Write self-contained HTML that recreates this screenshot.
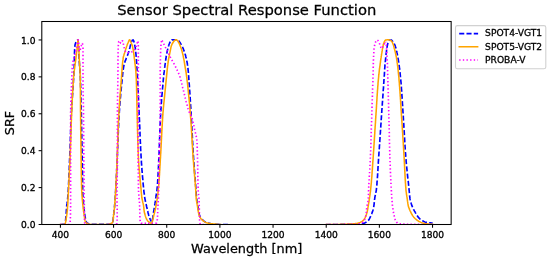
<!DOCTYPE html>
<html lang="en"><head><meta charset="utf-8"><title>Sensor Spectral Response Function</title>
<style>html,body{margin:0;padding:0;background:#fff}body{width:550px;height:259px;overflow:hidden}</style>
</head><body>
<svg width="550" height="259" viewBox="0 0 550 259" style="display:block">
<rect width="550" height="259" fill="#fff"/>
<defs><clipPath id="ax"><rect x="41.80" y="21.50" width="409.35" height="203.00"/></clipPath></defs>
<g clip-path="url(#ax)">
<path d="M60.4 224.5 L61.7 224.5 L62.7 224.4 L63.6 224.4 L64.2 224.3 L64.3 224.2 L64.9 223.4 L65.2 222.2 L65.3 221.9 L65.4 221.2 L65.6 220.2 L65.7 219.2 L65.8 218.1 L65.9 217.1 L66.0 216.0 L66.1 214.9 L66.1 213.9 L66.2 212.9 L66.3 211.9 L66.3 210.9 L66.4 209.9 L66.5 208.9 L66.5 207.8 L66.6 206.8 L66.7 206.0 L66.7 205.8 L66.8 204.9 L67.0 203.9 L67.1 202.9 L67.2 201.9 L67.4 200.9 L67.5 199.9 L67.6 198.9 L67.7 198.0 L67.7 197.9 L67.8 196.9 L67.9 195.9 L67.9 194.9 L68.0 193.9 L68.1 192.9 L68.1 191.9 L68.2 190.9 L68.3 189.9 L68.3 189.0 L68.4 188.0 L68.4 187.0 L68.5 186.0 L68.5 185.0 L68.6 184.0 L68.6 183.0 L68.7 182.0 L68.7 181.0 L68.8 180.0 L68.8 179.0 L68.9 178.0 L68.9 177.0 L68.9 176.0 L69.0 175.0 L69.0 174.0 L69.1 173.0 L69.1 172.0 L69.1 171.0 L69.2 170.0 L69.2 169.0 L69.3 168.0 L69.3 167.0 L69.3 166.0 L69.4 165.0 L69.4 164.0 L69.5 163.0 L69.5 162.0 L69.5 161.0 L69.6 160.0 L69.6 159.0 L69.7 158.0 L69.7 157.0 L69.7 157.0 L69.7 156.0 L69.8 155.0 L69.8 154.0 L69.9 153.0 L69.9 152.0 L69.9 151.0 L70.0 150.0 L70.0 149.0 L70.1 148.0 L70.1 147.0 L70.1 146.0 L70.2 145.0 L70.2 144.0 L70.2 143.0 L70.3 142.0 L70.3 141.0 L70.3 140.0 L70.4 139.0 L70.4 138.0 L70.4 137.0 L70.5 136.0 L70.5 135.0 L70.5 134.0 L70.6 133.0 L70.6 132.0 L70.6 131.0 L70.7 130.0 L70.7 129.0 L70.7 128.0 L70.8 127.0 L70.8 126.0 L70.9 125.0 L70.9 124.0 L70.9 123.0 L71.0 122.0 L71.0 121.0 L71.1 120.0 L71.1 119.0 L71.2 118.0 L71.2 117.0 L71.2 117.0 L71.2 116.1 L71.3 115.1 L71.3 114.1 L71.4 113.1 L71.4 112.1 L71.5 111.1 L71.6 110.1 L71.6 109.1 L71.7 108.1 L71.7 107.1 L71.8 106.1 L71.9 105.1 L71.9 104.1 L72.0 103.1 L72.0 102.1 L72.1 101.1 L72.2 100.1 L72.2 99.1 L72.3 98.1 L72.4 97.1 L72.4 96.1 L72.5 95.1 L72.6 94.1 L72.7 93.1 L72.7 92.1 L72.8 91.1 L72.9 90.1 L72.9 89.1 L73.0 88.1 L73.1 87.1 L73.1 86.1 L73.2 85.1 L73.2 84.1 L73.3 83.1 L73.4 82.1 L73.4 81.1 L73.5 80.1 L73.6 79.1 L73.6 78.2 L73.7 77.2 L73.7 76.2 L73.8 75.2 L73.8 74.2 L73.9 73.2 L73.9 72.2 L74.0 71.2 L74.0 70.2 L74.1 69.2 L74.1 68.7 L74.1 68.2 L74.2 67.2 L74.2 66.2 L74.2 65.2 L74.3 64.2 L74.3 63.2 L74.3 62.1 L74.3 61.1 L74.3 60.1 L74.4 59.1 L74.4 58.1 L74.4 57.1 L74.4 56.1 L74.5 55.1 L74.5 54.1 L74.5 53.1 L74.5 52.1 L74.6 51.1 L74.6 50.1 L74.7 49.1 L74.7 48.1 L74.8 47.2 L74.9 46.2 L74.9 45.8 L75.0 45.2 L75.2 44.2 L75.5 43.3 L75.9 42.3 L76.2 41.7 L76.4 41.4 L77.1 40.4 L77.6 39.9 L77.6 39.9 L77.8 40.1 L77.9 40.6 L78.1 41.4 L78.2 42.4 L78.3 43.6 L78.3 44.9 L78.4 46.2 L78.5 47.5 L78.5 48.7 L78.6 49.9 L78.6 50.0 L78.7 50.9 L78.7 51.8 L78.8 52.8 L78.8 53.8 L78.9 54.8 L79.0 55.8 L79.0 56.8 L79.1 57.8 L79.1 58.8 L79.2 59.8 L79.2 60.0 L79.3 60.8 L79.3 61.8 L79.4 62.8 L79.5 63.8 L79.5 64.8 L79.6 65.8 L79.7 66.8 L79.8 67.8 L79.8 68.8 L79.9 69.8 L80.0 70.8 L80.0 71.8 L80.1 72.8 L80.2 73.8 L80.2 74.8 L80.3 75.8 L80.3 76.5 L80.3 76.8 L80.4 77.8 L80.4 78.8 L80.4 79.8 L80.5 80.8 L80.5 81.8 L80.5 82.8 L80.6 83.8 L80.6 84.8 L80.6 85.8 L80.7 86.8 L80.7 87.8 L80.7 88.8 L80.8 89.8 L80.8 90.8 L80.8 91.8 L80.8 92.8 L80.9 93.8 L80.9 94.8 L80.9 95.8 L80.9 96.8 L81.0 97.8 L81.0 98.7 L81.0 99.7 L81.0 100.7 L81.1 101.7 L81.1 102.7 L81.1 103.7 L81.1 104.7 L81.1 105.7 L81.2 106.7 L81.2 107.7 L81.2 108.7 L81.2 109.7 L81.3 110.7 L81.3 111.7 L81.3 112.7 L81.3 113.7 L81.3 114.7 L81.4 115.7 L81.4 116.7 L81.4 117.0 L81.4 117.7 L81.4 118.7 L81.5 119.7 L81.5 120.7 L81.5 121.7 L81.5 122.7 L81.5 123.7 L81.6 124.7 L81.6 125.7 L81.6 126.7 L81.6 127.7 L81.7 128.7 L81.7 129.7 L81.7 130.7 L81.7 131.7 L81.7 132.7 L81.8 133.7 L81.8 134.7 L81.8 135.7 L81.8 136.7 L81.8 137.7 L81.8 138.7 L81.9 139.7 L81.9 140.7 L81.9 141.7 L81.9 142.7 L81.9 143.7 L82.0 144.7 L82.0 145.7 L82.0 146.7 L82.0 147.7 L82.0 148.7 L82.1 149.7 L82.1 150.7 L82.1 151.7 L82.1 152.7 L82.1 153.7 L82.2 154.7 L82.2 155.7 L82.2 156.7 L82.2 157.0 L82.2 157.7 L82.2 158.7 L82.3 159.7 L82.3 160.7 L82.3 161.7 L82.3 162.7 L82.3 163.7 L82.3 164.7 L82.3 165.7 L82.4 166.7 L82.4 167.7 L82.4 168.7 L82.4 169.7 L82.4 170.7 L82.4 171.7 L82.4 172.7 L82.5 173.7 L82.5 174.7 L82.5 175.7 L82.5 176.7 L82.5 177.7 L82.5 178.7 L82.5 179.7 L82.6 180.7 L82.6 181.7 L82.6 182.7 L82.6 183.7 L82.6 184.7 L82.6 185.7 L82.7 186.7 L82.7 187.7 L82.7 188.7 L82.7 189.7 L82.8 190.7 L82.8 191.7 L82.8 192.7 L82.9 193.7 L82.9 194.7 L82.9 195.7 L83.0 196.7 L83.0 197.7 L83.0 198.0 L83.0 198.7 L83.1 199.7 L83.2 200.6 L83.3 201.6 L83.4 202.6 L83.5 203.6 L83.6 204.6 L83.7 205.6 L83.8 206.4 L83.8 206.6 L83.9 207.6 L84.0 208.6 L84.1 209.6 L84.3 210.6 L84.4 211.6 L84.5 212.6 L84.6 213.6 L84.8 214.6 L84.9 215.6 L85.0 216.1 L85.1 216.6 L85.3 217.7 L85.4 218.9 L85.7 220.0 L85.9 221.0 L86.3 221.8 L86.3 221.9 L86.8 222.6 L87.7 223.3 L88.5 223.8 L88.6 223.8 L89.5 224.0 L90.5 224.3 L91.5 224.4 L92.0 224.4 L92.5 224.4 L93.5 224.4 L94.5 224.4 L95.5 224.4 L96.5 224.4 L97.5 224.4 L98.5 224.4 L99.5 224.4 L100.5 224.4 L101.5 224.4 L102.5 224.4 L103.5 224.4 L104.5 224.4 L105.5 224.4 L106.5 224.4 L107.5 224.4 L108.0 224.4 L108.5 224.4 L109.5 224.2 L110.0 224.1 L110.5 223.9 L111.5 223.4 L112.3 222.8 L112.5 222.5 L112.7 222.0 L112.9 221.1 L113.1 220.1 L113.2 219.0 L113.3 217.8 L113.4 216.7 L113.5 215.5 L113.6 215.0 L113.7 214.5 L113.8 213.5 L113.9 212.5 L114.0 211.5 L114.1 210.5 L114.3 209.5 L114.4 208.6 L114.5 207.6 L114.5 206.6 L114.6 206.0 L114.6 205.6 L114.7 204.6 L114.8 203.6 L114.9 202.6 L115.0 201.6 L115.0 200.6 L115.1 199.6 L115.2 198.6 L115.2 198.0 L115.2 197.6 L115.3 196.6 L115.4 195.6 L115.4 194.6 L115.5 193.6 L115.5 192.6 L115.6 191.6 L115.7 190.6 L115.7 190.0 L115.7 189.6 L115.8 188.6 L115.8 187.6 L115.9 186.6 L115.9 185.6 L116.0 184.6 L116.0 183.6 L116.1 182.6 L116.1 181.6 L116.2 180.6 L116.2 179.6 L116.3 178.6 L116.3 177.6 L116.4 176.6 L116.4 175.6 L116.5 174.6 L116.5 173.6 L116.6 172.7 L116.6 171.7 L116.7 170.7 L116.7 169.7 L116.8 168.7 L116.8 167.7 L116.9 166.7 L116.9 165.7 L117.0 164.7 L117.0 163.7 L117.0 162.7 L117.1 161.7 L117.1 160.7 L117.2 159.7 L117.2 158.7 L117.3 157.7 L117.3 157.0 L117.3 156.7 L117.4 155.7 L117.4 154.7 L117.4 153.7 L117.5 152.7 L117.5 151.7 L117.6 150.7 L117.6 149.7 L117.6 148.7 L117.7 147.7 L117.7 146.7 L117.8 145.7 L117.8 144.7 L117.8 143.7 L117.9 142.7 L117.9 141.7 L118.0 140.7 L118.0 139.7 L118.0 138.7 L118.1 137.7 L118.1 136.7 L118.1 135.7 L118.2 134.7 L118.2 133.7 L118.3 132.7 L118.3 131.7 L118.3 130.7 L118.4 129.7 L118.4 128.7 L118.5 127.7 L118.5 126.7 L118.6 125.7 L118.6 124.7 L118.7 123.7 L118.7 122.7 L118.7 121.7 L118.8 120.7 L118.9 119.7 L118.9 118.7 L119.0 117.7 L119.0 117.0 L119.0 116.7 L119.1 115.7 L119.1 114.8 L119.2 113.8 L119.3 112.8 L119.3 111.8 L119.4 110.8 L119.5 109.8 L119.5 108.8 L119.6 107.8 L119.7 106.8 L119.7 105.8 L119.8 104.8 L119.9 103.8 L120.0 102.8 L120.1 101.8 L120.1 100.8 L120.2 99.8 L120.3 98.8 L120.4 97.8 L120.5 96.8 L120.6 95.8 L120.6 94.8 L120.7 93.8 L120.8 92.8 L120.9 91.8 L121.0 90.8 L121.1 89.8 L121.2 88.8 L121.3 87.9 L121.4 86.9 L121.5 85.9 L121.6 84.9 L121.7 83.9 L121.8 82.9 L121.9 81.9 L122.0 80.9 L122.1 79.9 L122.2 78.9 L122.3 78.0 L122.3 77.9 L122.4 76.9 L122.5 75.9 L122.6 74.9 L122.7 73.9 L122.8 72.9 L122.9 71.9 L123.1 70.9 L123.2 69.9 L123.3 68.9 L123.5 68.0 L123.6 67.0 L123.8 66.0 L123.9 65.5 L124.0 65.0 L124.2 64.1 L124.5 63.1 L124.8 62.2 L125.1 61.2 L125.5 60.3 L125.9 59.4 L126.2 58.4 L126.6 57.5 L127.0 56.6 L127.4 55.6 L127.7 54.7 L128.0 54.0 L128.1 53.8 L128.4 52.7 L128.8 51.6 L129.1 50.4 L129.4 49.2 L129.8 47.9 L130.1 46.7 L130.4 45.4 L130.8 44.3 L131.1 43.2 L131.4 42.2 L131.8 41.4 L132.1 40.7 L132.4 40.2 L132.7 39.9 L132.9 39.8" fill="none" stroke="#0000ff" stroke-width="1.65" stroke-linejoin="round" stroke-linecap="butt" stroke-dasharray="5.08 2.20" stroke-dashoffset="0.00"/>
<path d="M132.9 39.8 L133.0 39.8 L133.3 40.1 L133.6 40.7 L133.9 41.5 L134.2 42.6 L134.5 43.8 L134.7 45.1 L135.0 46.3 L135.2 47.6 L135.4 48.7 L135.4 49.0 L135.5 49.7 L135.6 50.7 L135.7 51.6 L135.8 52.6 L135.9 53.6 L136.0 54.6 L136.1 55.6 L136.2 56.6 L136.3 57.6 L136.3 58.6 L136.4 59.6 L136.5 60.6 L136.5 61.6 L136.6 62.6 L136.7 63.6 L136.7 64.6 L136.8 65.6 L136.8 66.6 L136.9 67.6 L137.0 68.6 L137.0 69.6 L137.1 70.6 L137.1 71.6 L137.2 72.6 L137.2 73.6 L137.3 74.6 L137.3 75.6 L137.4 76.6 L137.4 77.0 L137.4 77.6 L137.5 78.6 L137.5 79.6 L137.6 80.6 L137.7 81.6 L137.7 82.6 L137.8 83.6 L137.8 84.6 L137.9 85.6 L137.9 86.6 L138.0 87.6 L138.0 88.6 L138.1 89.6 L138.1 90.6 L138.2 91.6 L138.2 92.6 L138.2 93.6 L138.3 94.6 L138.3 95.6 L138.4 96.6 L138.4 97.6 L138.5 98.5 L138.5 99.5 L138.6 100.5 L138.6 101.5 L138.7 102.5 L138.7 103.5 L138.7 104.5 L138.8 105.5 L138.8 106.5 L138.9 107.5 L138.9 108.5 L139.0 109.5 L139.0 110.5 L139.1 111.5 L139.1 112.5 L139.1 113.5 L139.2 114.5 L139.2 115.5 L139.3 116.5 L139.3 117.0 L139.3 117.5 L139.4 118.5 L139.4 119.5 L139.5 120.5 L139.5 121.5 L139.5 122.5 L139.6 123.5 L139.6 124.5 L139.7 125.5 L139.7 126.5 L139.8 127.5 L139.8 128.5 L139.8 129.5 L139.9 130.5 L139.9 131.5 L140.0 132.5 L140.0 133.5 L140.0 134.5 L140.1 135.5 L140.1 136.5 L140.2 137.5 L140.2 138.5 L140.2 139.5 L140.3 140.5 L140.3 141.5 L140.4 142.5 L140.4 143.5 L140.5 144.5 L140.5 145.5 L140.6 146.5 L140.6 147.5 L140.6 148.5 L140.7 149.5 L140.7 150.5 L140.8 151.5 L140.8 152.5 L140.9 153.5 L141.0 154.5 L141.0 155.5 L141.1 156.5 L141.1 157.0 L141.1 157.4 L141.2 158.4 L141.2 159.4 L141.3 160.4 L141.4 161.4 L141.4 162.4 L141.5 163.4 L141.6 164.4 L141.6 165.4 L141.7 166.4 L141.8 167.4 L141.9 168.4 L141.9 169.4 L142.0 170.4 L142.1 171.4 L142.2 172.4 L142.3 173.4 L142.3 174.4 L142.4 175.4 L142.5 176.4 L142.6 177.4 L142.7 178.4 L142.8 179.4 L142.9 180.4 L143.0 181.4 L143.0 182.4 L143.1 183.4 L143.2 184.3 L143.3 185.3 L143.4 186.3 L143.5 187.3 L143.6 188.3 L143.7 189.3 L143.8 190.0 L143.8 190.3 L143.9 191.3 L144.0 192.3 L144.2 193.3 L144.3 194.3 L144.4 195.3 L144.5 196.3 L144.7 197.3 L144.8 198.0 L144.8 198.2 L145.0 199.2 L145.2 200.2 L145.4 201.2 L145.6 202.2 L145.8 203.1 L146.1 204.1 L146.3 205.1 L146.5 206.1 L146.6 206.4 L146.7 207.0 L147.0 208.0 L147.2 209.0 L147.4 210.0 L147.6 211.0 L147.9 211.9 L148.1 212.9 L148.4 213.9 L148.6 214.8 L148.9 215.8 L149.1 216.3 L149.3 216.8 L149.7 218.1 L150.2 219.3 L150.7 220.4 L151.2 221.2 L151.5 221.5" fill="none" stroke="#0000ff" stroke-width="1.65" stroke-linejoin="round" stroke-linecap="butt" stroke-dasharray="5.08 2.20" stroke-dashoffset="2.07"/>
<path d="M151.5 221.5 L151.5 221.5 L151.8 221.3 L152.1 220.8 L152.3 220.1 L152.5 219.1 L152.8 218.0 L153.0 216.7 L153.2 215.3 L153.3 214.0 L153.5 212.7 L153.7 211.5 L153.9 210.3 L154.0 209.6 L154.1 209.3 L154.2 208.3 L154.4 207.3 L154.5 206.4 L154.7 205.4 L154.8 204.4 L155.0 203.4 L155.1 202.4 L155.3 201.4 L155.4 200.4 L155.6 199.4 L155.7 198.4 L155.9 197.5 L156.0 196.5 L156.0 196.5 L156.2 195.5 L156.3 194.5 L156.5 193.5 L156.7 192.5 L156.8 191.5 L156.9 190.5 L157.0 190.0 L157.0 189.6 L157.1 188.6 L157.2 187.6 L157.3 186.6 L157.4 185.6 L157.5 184.6 L157.5 183.6 L157.6 182.6 L157.7 181.6 L157.7 180.6 L157.8 179.6 L157.9 178.6 L157.9 177.6 L158.0 176.6 L158.0 175.6 L158.1 174.6 L158.1 173.6 L158.2 172.6 L158.2 171.6 L158.3 170.6 L158.3 169.6 L158.4 168.6 L158.4 167.6 L158.5 166.6 L158.5 165.6 L158.6 164.6 L158.6 163.6 L158.6 162.6 L158.7 161.6 L158.7 160.6 L158.8 159.6 L158.8 158.6 L158.9 157.6 L158.9 157.0 L158.9 156.6 L159.0 155.6 L159.0 154.6 L159.1 153.6 L159.1 152.6 L159.1 151.6 L159.2 150.6 L159.2 149.6 L159.3 148.6 L159.3 147.6 L159.3 146.6 L159.4 145.6 L159.4 144.7 L159.4 143.7 L159.5 142.7 L159.5 141.7 L159.5 140.7 L159.6 139.7 L159.6 138.7 L159.7 137.7 L159.7 136.7 L159.7 135.7 L159.8 134.7 L159.8 133.7 L159.8 132.7 L159.9 131.7 L159.9 130.7 L159.9 129.7 L160.0 128.7 L160.0 127.7 L160.1 126.7 L160.1 125.7 L160.1 124.7 L160.2 123.7 L160.2 122.7 L160.3 121.7 L160.3 120.7 L160.4 119.7 L160.4 118.7 L160.5 117.7 L160.5 117.0 L160.5 116.7 L160.6 115.7 L160.6 114.7 L160.7 113.7 L160.7 112.7 L160.8 111.7 L160.9 110.7 L160.9 109.7 L161.0 108.7 L161.0 107.7 L161.1 106.7 L161.2 105.7 L161.3 104.7 L161.3 103.7 L161.4 102.7 L161.5 101.7 L161.5 100.7 L161.6 99.7 L161.7 98.7 L161.8 97.7 L161.8 96.8 L161.9 95.8 L162.0 94.8 L162.1 93.8 L162.2 92.8 L162.2 91.8 L162.3 90.8 L162.4 89.8 L162.5 88.8 L162.6 87.8 L162.7 86.8 L162.8 85.8 L162.9 84.8 L163.0 83.8 L163.0 82.8 L163.1 81.8 L163.2 80.8 L163.3 79.8 L163.4 78.8 L163.5 77.8 L163.6 77.0 L163.6 76.8 L163.7 75.9 L163.8 74.9 L163.9 73.9 L164.0 72.9 L164.2 71.9 L164.3 70.9 L164.4 69.9 L164.5 68.9 L164.6 67.9 L164.8 66.9 L164.9 65.9 L165.0 64.9 L165.2 63.9 L165.2 63.8 L165.3 63.0 L165.5 62.0 L165.6 61.0 L165.7 60.0 L165.9 59.0 L166.0 58.0 L166.2 57.0 L166.3 56.0 L166.5 55.0 L166.7 54.1 L166.9 53.1 L167.0 52.4 L167.1 52.1 L167.3 51.1 L167.5 50.1 L167.7 49.1 L167.9 48.1 L168.2 47.2 L168.5 46.2 L168.8 45.3 L169.1 44.3 L169.4 43.6 L169.5 43.4 L169.9 42.4 L170.4 41.4 L171.1 40.5 L171.7 40.0 L172.0 39.9 L172.5 39.9 L173.5 39.8 L174.6 39.8 L175.7 39.8 L176.7 39.8 L176.9 39.8 L177.5 39.9 L178.2 40.3 L178.9 41.0 L179.6 41.9 L180.2 42.8 L180.8 43.9 L181.3 44.9 L181.8 45.8 L181.8 45.8 L182.3 46.6 L182.7 47.5 L183.1 48.4 L183.5 49.4 L183.9 50.3 L184.2 51.3 L184.6 52.2 L184.9 53.2 L185.1 54.0 L185.1 54.1 L185.4 55.1 L185.7 56.1 L185.9 57.0 L186.2 58.0 L186.4 59.0 L186.6 59.9 L186.8 60.9 L187.0 61.9 L187.2 62.9 L187.4 63.9 L187.5 64.9 L187.6 65.5 L187.6 65.9 L187.8 66.8 L187.9 67.8 L188.0 68.8 L188.1 69.8 L188.2 70.8 L188.3 71.8 L188.4 72.8 L188.4 73.8 L188.5 74.8 L188.6 75.8 L188.7 76.8 L188.7 77.0 L188.8 77.8 L188.8 78.8 L188.9 79.8 L189.0 80.8 L189.1 81.8 L189.1 82.8 L189.2 83.8 L189.3 84.8 L189.4 85.8 L189.4 86.8 L189.5 87.8 L189.6 88.8 L189.6 89.8 L189.7 90.8 L189.8 91.8 L189.8 92.8 L189.9 93.7 L190.0 94.7 L190.0 95.7 L190.1 96.7 L190.2 97.7 L190.2 98.7 L190.3 99.7 L190.3 100.7 L190.4 101.7 L190.5 102.7 L190.5 103.7 L190.6 104.7 L190.6 105.7 L190.7 106.7 L190.8 107.7 L190.8 108.7 L190.9 109.7 L190.9 110.7 L191.0 111.7 L191.1 112.7 L191.1 113.7 L191.2 114.7 L191.2 115.7 L191.3 116.7 L191.3 117.0 L191.3 117.7 L191.4 118.7 L191.4 119.7 L191.5 120.7 L191.6 121.7 L191.6 122.7 L191.7 123.7 L191.7 124.7 L191.8 125.7 L191.8 126.7 L191.9 127.7 L191.9 128.7 L192.0 129.7 L192.0 130.7 L192.1 131.7 L192.1 132.7 L192.2 133.7 L192.2 134.7 L192.3 135.7 L192.3 136.7 L192.4 137.6 L192.4 138.6 L192.5 139.6 L192.5 140.0 L192.5 140.6 L192.6 141.6 L192.6 142.6 L192.7 143.6 L192.8 144.6 L192.8 145.6 L192.9 146.6 L192.9 147.6 L193.0 148.6 L193.0 149.6 L193.1 150.6 L193.2 151.6 L193.2 152.6 L193.3 153.6 L193.3 154.6 L193.4 155.6 L193.5 156.6 L193.5 157.0 L193.5 157.6 L193.6 158.6 L193.7 159.6 L193.7 160.6 L193.8 161.6 L193.9 162.6 L194.0 163.6 L194.0 164.6 L194.1 165.6 L194.2 166.6 L194.3 167.6 L194.3 168.6 L194.4 169.6 L194.5 170.6 L194.6 171.6 L194.6 172.5 L194.7 173.5 L194.8 174.5 L194.9 175.5 L194.9 176.5 L195.0 177.5 L195.1 178.5 L195.2 179.5 L195.3 180.5 L195.3 181.5 L195.4 182.5 L195.5 183.5 L195.6 184.5 L195.7 185.5 L195.7 186.5 L195.8 187.5 L195.9 188.5 L196.0 189.5 L196.0 190.0 L196.0 190.5 L196.1 191.5 L196.2 192.5 L196.2 193.5 L196.3 194.5 L196.4 195.5 L196.5 196.5 L196.5 197.5 L196.6 198.0 L196.6 198.5 L196.8 199.4 L196.9 200.4 L197.0 201.4 L197.2 202.4 L197.4 203.4 L197.5 204.4 L197.7 205.4 L197.9 206.3 L197.9 206.4 L198.1 207.3 L198.2 208.4 L198.4 209.4 L198.5 210.4 L198.7 211.4 L198.9 212.4 L199.1 213.4 L199.3 214.4 L199.6 215.3 L199.9 216.2 L199.9 216.3 L200.3 217.1 L200.9 218.0 L201.5 218.9 L202.3 219.6 L203.1 220.4 L203.4 220.7 L203.8 221.0 L204.7 221.6 L205.5 222.2 L206.5 222.6 L207.0 222.8 L207.4 222.9 L208.3 223.1 L209.3 223.3 L210.3 223.5 L211.3 223.7 L212.3 223.8 L213.0 223.9 L213.3 223.9 L214.3 224.0 L215.3 224.1 L216.3 224.2 L217.3 224.3 L218.3 224.4 L219.3 224.5 L220.3 224.5 L220.5 224.5" fill="none" stroke="#0000ff" stroke-width="1.65" stroke-linejoin="round" stroke-linecap="butt" stroke-dasharray="5.08 2.20" stroke-dashoffset="5.53"/>
<path d="M220.5 224.5 L221.3 224.5 L222.3 224.5 L223.3 224.5 L224.3 224.5 L225.3 224.5 L226.3 224.5 L227.3 224.5 L228.3 224.5" fill="none" stroke="#0000ff" stroke-width="1.65" stroke-linejoin="round" stroke-linecap="butt" stroke-dasharray="5.08 2.20" stroke-dashoffset="4.88"/>
<path d="M326.3 224.5 L327.3 224.5 L328.3 224.5 L329.3 224.5 L330.3 224.5 L331.4 224.5 L332.4 224.5 L333.4 224.5 L334.4 224.5 L335.4 224.5 L336.4 224.5 L337.4 224.5 L338.4 224.5 L339.4 224.5 L340.4 224.5 L341.4 224.4 L342.4 224.4 L343.4 224.4 L344.4 224.4 L345.4 224.4 L346.4 224.4 L347.4 224.4 L348.4 224.4 L349.4 224.4 L350.3 224.3 L351.3 224.3 L352.3 224.3 L353.3 224.3 L354.3 224.3 L355.3 224.3 L356.3 224.2 L357.3 224.2 L358.3 224.2 L359.0 224.2 L359.3 224.2 L360.3 224.1 L361.3 223.9 L362.3 223.7 L363.2 223.4 L364.0 223.2 L364.2 223.2 L365.1 222.8 L366.0 222.3 L366.9 221.7 L367.7 221.0 L368.1 220.7 L368.4 220.4 L369.0 219.6 L369.5 218.7 L370.0 217.7 L370.5 216.7 L370.9 215.7 L371.3 214.7 L371.4 214.5 L371.7 213.8 L372.0 212.9 L372.4 211.9 L372.7 211.0 L373.0 210.0 L373.2 209.0 L373.5 208.1 L373.7 207.1 L373.8 206.4 L373.8 206.1 L374.0 205.1 L374.1 204.1 L374.2 203.2 L374.3 202.2 L374.4 201.2 L374.5 200.2 L374.6 199.2 L374.8 198.2 L374.8 198.0 L374.9 197.2 L375.1 196.2 L375.3 195.2 L375.5 194.2 L375.7 193.3 L375.9 192.3 L376.1 191.3 L376.3 190.3 L376.3 190.0 L376.4 189.3 L376.5 188.3 L376.6 187.4 L376.7 186.4 L376.8 185.4 L376.9 184.4 L377.0 183.4 L377.0 182.4 L377.1 181.4 L377.2 180.4 L377.3 179.4 L377.4 178.4 L377.4 177.4 L377.5 176.4 L377.6 175.4 L377.6 174.4 L377.7 173.4 L377.8 172.4 L377.8 171.4 L377.9 170.4 L377.9 169.4 L378.0 168.4 L378.0 167.4 L378.1 166.4 L378.2 165.4 L378.2 164.4 L378.3 163.4 L378.3 162.4 L378.4 161.4 L378.5 160.4 L378.5 159.4 L378.6 158.4 L378.7 157.4 L378.7 157.0 L378.7 156.4 L378.8 155.4 L378.9 154.4 L378.9 153.5 L379.0 152.5 L379.1 151.5 L379.2 150.5 L379.2 149.5 L379.3 148.5 L379.4 147.5 L379.4 146.5 L379.5 145.5 L379.6 144.5 L379.6 143.5 L379.7 142.5 L379.8 141.5 L379.8 140.5 L379.9 139.5 L380.0 138.5 L380.0 137.5 L380.1 136.5 L380.2 135.5 L380.2 134.5 L380.3 133.5 L380.4 132.5 L380.4 131.5 L380.5 130.5 L380.6 129.5 L380.6 128.5 L380.7 127.5 L380.8 126.5 L380.8 125.5 L380.9 124.5 L381.0 123.5 L381.0 122.6 L381.1 121.6 L381.2 120.6 L381.2 119.6 L381.3 118.6 L381.4 117.6 L381.4 117.0 L381.4 116.6 L381.5 115.6 L381.6 114.6 L381.6 113.6 L381.7 112.6 L381.8 111.6 L381.8 110.6 L381.9 109.6 L382.0 108.6 L382.1 107.6 L382.1 106.6 L382.2 105.6 L382.3 104.6 L382.3 103.6 L382.4 102.6 L382.5 101.6 L382.5 100.6 L382.6 99.6 L382.7 98.6 L382.8 97.6 L382.8 96.6 L382.9 95.6 L383.0 94.6 L383.0 93.6 L383.1 92.7 L383.2 91.7 L383.2 90.7 L383.3 89.7 L383.4 88.7 L383.5 87.7 L383.5 86.7 L383.6 85.7 L383.7 84.7 L383.7 83.7 L383.8 82.7 L383.9 81.7 L383.9 80.7 L384.0 79.7 L384.1 78.7 L384.2 77.7 L384.2 77.0 L384.2 76.7 L384.3 75.7 L384.4 74.7 L384.4 73.7 L384.5 72.7 L384.5 71.7 L384.6 70.7 L384.7 69.7 L384.7 68.7 L384.8 67.7 L384.9 66.7 L384.9 65.7 L385.0 64.7 L385.1 63.8 L385.1 63.7 L385.2 62.8 L385.3 61.8 L385.4 60.8 L385.5 59.8 L385.6 58.8 L385.7 57.8 L385.8 56.8 L385.9 55.8 L386.0 54.8 L386.1 53.8 L386.2 52.8 L386.3 52.4 L386.4 51.8 L386.5 50.8 L386.6 49.8 L386.8 48.8 L386.9 47.8 L387.1 46.8 L387.3 45.8 L387.5 44.8 L387.7 43.9 L387.9 43.4 L388.0 43.0 L388.5 41.9 L389.1 40.9 L389.7 40.0 L390.4 39.7 L390.4 39.7" fill="none" stroke="#0000ff" stroke-width="1.65" stroke-linejoin="round" stroke-linecap="butt" stroke-dasharray="5.08 2.20" stroke-dashoffset="0.80"/>
<path d="M390.4 39.7 L391.0 39.9 L391.8 40.4 L392.5 41.2 L393.3 42.2 L393.9 43.2 L394.4 44.1 L394.5 44.2 L394.8 44.9 L395.2 45.8 L395.5 46.8 L395.8 47.7 L396.1 48.7 L396.3 49.7 L396.5 50.7 L396.8 51.7 L396.9 52.4 L397.0 52.7 L397.2 53.7 L397.4 54.7 L397.6 55.6 L397.7 56.6 L397.9 57.6 L398.1 58.6 L398.3 59.6 L398.4 60.6 L398.6 61.6 L398.7 62.5 L398.9 63.5 L398.9 63.8 L399.0 64.5 L399.1 65.5 L399.3 66.5 L399.4 67.5 L399.5 68.5 L399.7 69.5 L399.8 70.5 L399.9 71.5 L400.0 72.4 L400.1 73.4 L400.2 74.4 L400.3 75.4 L400.4 76.4 L400.5 77.0 L400.5 77.4 L400.6 78.4 L400.7 79.4 L400.8 80.4 L400.9 81.4 L401.0 82.4 L401.1 83.4 L401.1 84.4 L401.2 85.4 L401.3 86.4 L401.4 87.4 L401.4 88.4 L401.5 89.4 L401.6 90.4 L401.7 91.4 L401.7 92.3 L401.8 93.3 L401.9 94.3 L401.9 95.3 L402.0 96.3 L402.1 97.3 L402.1 98.3 L402.2 99.3 L402.2 100.3 L402.3 101.3 L402.4 102.3 L402.4 103.3 L402.5 104.3 L402.6 105.3 L402.6 106.3 L402.7 107.3 L402.7 108.3 L402.8 109.3 L402.9 110.3 L402.9 111.3 L403.0 112.3 L403.1 113.3 L403.1 114.3 L403.2 115.3 L403.3 116.3 L403.3 117.0 L403.3 117.3 L403.4 118.3 L403.4 119.3 L403.5 120.3 L403.6 121.3 L403.6 122.3 L403.7 123.3 L403.8 124.3 L403.8 125.3 L403.9 126.3 L403.9 127.3 L404.0 128.3 L404.0 129.3 L404.1 130.2 L404.2 131.2 L404.2 132.2 L404.3 133.2 L404.3 134.2 L404.4 135.2 L404.4 136.2 L404.5 137.2 L404.6 138.2 L404.6 139.2 L404.7 140.2 L404.7 141.2 L404.8 142.2 L404.9 143.2 L404.9 144.2 L405.0 145.2 L405.0 146.2 L405.1 147.2 L405.2 148.2 L405.2 149.2 L405.3 150.2 L405.4 151.2 L405.4 152.2 L405.5 153.2 L405.6 154.2 L405.7 155.2 L405.7 156.2 L405.8 157.0 L405.8 157.2 L405.9 158.2 L406.0 159.2 L406.1 160.2 L406.1 161.1 L406.2 162.1 L406.3 163.1 L406.4 164.1 L406.5 165.1 L406.6 166.1 L406.7 167.1 L406.8 168.1 L406.9 169.1 L407.0 170.1 L407.1 171.1 L407.2 172.1 L407.3 173.1 L407.4 174.1 L407.5 175.1 L407.6 176.1 L407.7 177.1 L407.8 178.0 L407.9 179.0 L408.1 180.0 L408.2 181.0 L408.3 182.0 L408.4 183.0 L408.5 184.0 L408.6 185.0 L408.7 186.0 L408.8 187.0 L408.9 188.0 L409.0 189.0 L409.1 190.0 L409.1 190.0 L409.2 191.0 L409.3 192.0 L409.4 193.0 L409.5 194.0 L409.5 195.0 L409.6 196.0 L409.8 196.9 L409.9 197.9 L409.9 198.0 L410.0 198.9 L410.2 199.9 L410.5 200.9 L410.7 201.8 L411.0 202.8 L411.3 203.8 L411.6 204.7 L411.9 205.7 L412.0 205.9 L412.3 206.6 L412.6 207.5 L413.1 208.4 L413.5 209.3 L414.0 210.2 L414.5 211.1 L415.0 211.9 L415.5 212.8 L415.8 213.3 L416.0 213.7 L416.5 214.6 L417.0 215.4 L417.6 216.3 L418.0 216.9 L418.2 217.1 L418.9 217.9 L419.6 218.6 L420.4 219.3 L420.7 219.5 L421.2 219.9 L422.1 220.5 L423.0 221.0 L423.9 221.5 L424.8 221.9 L425.6 222.2 L425.7 222.2 L426.7 222.4 L427.7 222.5 L428.6 222.7 L429.6 222.8 L430.6 222.9 L431.7 223.0 L432.7 223.0" fill="none" stroke="#0000ff" stroke-width="1.65" stroke-linejoin="round" stroke-linecap="butt" stroke-dasharray="5.08 2.20" stroke-dashoffset="1.61"/>
<path d="M60.4 224.5 L61.5 224.5 L62.6 224.5 L63.5 224.4 L64.2 224.4 L64.4 224.4 L65.2 223.6 L65.3 223.3 L65.5 222.7 L65.7 221.6 L65.9 220.5 L66.0 219.8 L66.1 219.5 L66.2 218.4 L66.4 217.3 L66.6 216.3 L66.7 215.2 L66.9 214.2 L67.0 213.2 L67.0 213.0 L67.1 212.2 L67.2 211.3 L67.3 210.3 L67.4 209.3 L67.5 208.3 L67.5 207.3 L67.6 206.3 L67.7 205.3 L67.8 204.3 L67.8 203.3 L67.9 202.3 L67.9 202.0 L67.9 201.3 L68.0 200.3 L68.0 199.3 L68.1 198.3 L68.1 197.3 L68.2 196.3 L68.2 195.3 L68.3 194.3 L68.3 194.0 L68.3 193.3 L68.4 192.3 L68.4 191.3 L68.5 190.3 L68.5 189.3 L68.6 188.3 L68.6 187.3 L68.7 186.3 L68.7 185.3 L68.8 184.3 L68.8 183.3 L68.9 182.3 L68.9 181.3 L69.0 180.3 L69.0 179.3 L69.1 178.3 L69.1 177.3 L69.2 176.3 L69.2 175.3 L69.3 174.3 L69.3 173.3 L69.4 172.3 L69.4 171.3 L69.5 170.3 L69.5 169.3 L69.6 168.3 L69.6 167.3 L69.7 166.3 L69.7 165.3 L69.8 164.3 L69.8 163.3 L69.9 162.3 L69.9 161.3 L70.0 160.3 L70.0 159.3 L70.0 158.3 L70.1 157.3 L70.1 157.0 L70.1 156.3 L70.2 155.3 L70.2 154.3 L70.2 153.4 L70.3 152.4 L70.3 151.4 L70.4 150.4 L70.4 149.4 L70.4 148.4 L70.5 147.4 L70.5 146.4 L70.5 145.4 L70.6 144.4 L70.6 143.4 L70.6 142.4 L70.7 141.4 L70.7 140.4 L70.7 139.4 L70.7 138.4 L70.8 137.4 L70.8 136.4 L70.8 135.4 L70.9 134.4 L70.9 133.4 L70.9 132.4 L71.0 131.4 L71.0 130.4 L71.0 129.4 L71.1 128.4 L71.1 127.4 L71.1 126.4 L71.2 125.4 L71.2 124.4 L71.2 123.4 L71.3 122.4 L71.3 121.4 L71.4 120.4 L71.4 119.4 L71.4 118.4 L71.5 117.4 L71.5 117.0 L71.5 116.4 L71.6 115.4 L71.6 114.4 L71.7 113.4 L71.7 112.4 L71.7 111.4 L71.8 110.4 L71.8 109.4 L71.9 108.4 L71.9 107.4 L72.0 106.4 L72.0 105.4 L72.0 104.4 L72.1 103.4 L72.1 102.4 L72.2 101.4 L72.2 100.4 L72.3 99.4 L72.3 98.4 L72.4 97.4 L72.4 96.4 L72.5 95.4 L72.5 94.4 L72.6 93.4 L72.6 92.4 L72.7 91.4 L72.8 90.4 L72.8 89.4 L72.9 88.4 L72.9 87.4 L73.0 86.4 L73.1 85.4 L73.1 84.4 L73.2 83.4 L73.3 82.4 L73.3 81.4 L73.4 80.4 L73.5 79.4 L73.5 78.4 L73.6 77.4 L73.7 76.5 L73.7 76.5 L73.8 75.5 L73.9 74.5 L74.0 73.5 L74.1 72.5 L74.2 71.5 L74.3 70.5 L74.4 69.5 L74.6 68.5 L74.7 67.5 L74.8 66.5 L75.0 65.5 L75.1 64.5 L75.2 63.5 L75.4 62.6 L75.5 61.6 L75.6 60.6 L75.7 60.0 L75.8 59.6 L75.9 58.6 L76.0 57.6 L76.1 56.6 L76.3 55.6 L76.4 54.6 L76.5 53.6 L76.6 52.6 L76.7 51.6 L76.9 50.7 L77.0 49.7 L77.0 49.5 L77.1 48.7 L77.2 47.7 L77.3 46.7 L77.4 45.7 L77.5 44.7 L77.6 44.0 L77.6 43.7 L77.7 42.4 L77.8 41.1 L77.8 40.1 L77.9 39.7 L77.9 39.7 L78.0 40.1 L78.1 41.1 L78.2 42.4 L78.3 43.7 L78.3 44.0 L78.4 44.7 L78.5 45.7 L78.6 46.7 L78.7 47.7 L78.7 48.7 L78.8 49.5 L78.8 49.7 L78.9 50.6 L78.9 51.6 L79.0 52.6 L79.0 53.6 L79.1 54.6 L79.1 55.6 L79.1 56.6 L79.2 57.6 L79.2 58.6 L79.3 59.6 L79.3 60.0 L79.3 60.6 L79.4 61.6 L79.4 62.6 L79.5 63.6 L79.6 64.6 L79.6 65.6 L79.7 66.6 L79.8 67.6 L79.8 68.6 L79.9 69.6 L80.0 70.6 L80.0 71.6 L80.1 72.6 L80.1 73.6 L80.1 74.6 L80.2 75.6 L80.2 76.5 L80.2 76.6 L80.2 77.6 L80.2 78.6 L80.3 79.6 L80.3 80.6 L80.3 81.6 L80.3 82.6 L80.3 83.6 L80.3 84.6 L80.3 85.6 L80.3 86.6 L80.4 87.6 L80.4 88.6 L80.4 89.6 L80.4 90.6 L80.4 91.6 L80.4 92.6 L80.4 93.6 L80.4 94.6 L80.4 95.6 L80.4 96.6 L80.4 97.6 L80.5 98.6 L80.5 99.6 L80.5 100.6 L80.5 101.6 L80.5 102.6 L80.5 103.6 L80.5 104.6 L80.5 105.6 L80.5 106.6 L80.5 107.6 L80.5 108.6 L80.5 109.6 L80.5 110.6 L80.5 111.6 L80.6 112.6 L80.6 113.6 L80.6 114.6 L80.6 115.6 L80.6 116.6 L80.6 117.0 L80.6 117.6 L80.6 118.6 L80.6 119.6 L80.6 120.6 L80.7 121.6 L80.7 122.6 L80.7 123.6 L80.7 124.6 L80.7 125.6 L80.7 126.6 L80.7 127.6 L80.7 128.6 L80.7 129.6 L80.8 130.6 L80.8 131.6 L80.8 132.6 L80.8 133.6 L80.8 134.6 L80.8 135.6 L80.8 136.6 L80.8 137.6 L80.9 138.6 L80.9 139.6 L80.9 140.6 L80.9 141.6 L80.9 142.6 L80.9 143.6 L80.9 144.6 L80.9 145.6 L81.0 146.6 L81.0 147.6 L81.0 148.6 L81.0 149.6 L81.0 150.6 L81.0 151.6 L81.0 152.6 L81.1 153.6 L81.1 154.6 L81.1 155.6 L81.1 156.6 L81.1 157.0 L81.1 157.6 L81.1 158.6 L81.1 159.6 L81.2 160.6 L81.2 161.6 L81.2 162.6 L81.2 163.6 L81.2 164.6 L81.2 165.6 L81.2 166.6 L81.2 167.6 L81.3 168.6 L81.3 169.6 L81.3 170.6 L81.3 171.6 L81.3 172.6 L81.3 173.6 L81.3 174.6 L81.4 175.6 L81.4 176.6 L81.4 177.6 L81.4 178.6 L81.4 179.6 L81.5 180.6 L81.5 181.6 L81.5 182.6 L81.5 183.6 L81.5 184.6 L81.6 185.6 L81.6 186.6 L81.6 187.6 L81.7 188.6 L81.7 189.6 L81.7 190.0 L81.7 190.6 L81.8 191.6 L81.8 192.6 L81.9 193.6 L81.9 194.6 L82.0 195.6 L82.1 196.6 L82.2 197.6 L82.2 198.0 L82.2 198.5 L82.3 199.5 L82.4 200.5 L82.5 201.5 L82.6 202.5 L82.7 203.5 L82.8 204.5 L82.9 205.5 L83.0 206.4 L83.0 206.5 L83.1 207.5 L83.2 208.5 L83.4 209.5 L83.5 210.5 L83.6 211.5 L83.8 212.5 L83.9 213.5 L84.0 214.4 L84.2 215.5 L84.3 216.1 L84.4 216.5 L84.5 217.6 L84.7 218.8 L84.9 219.9 L85.1 220.9 L85.4 221.8 L85.5 221.9 L85.9 222.5 L86.8 223.2 L87.8 223.7 L88.0 223.8 L88.7 224.0 L89.7 224.2 L90.7 224.4 L91.0 224.4 L91.7 224.4 L92.7 224.4 L93.7 224.4 L94.7 224.4 L95.7 224.4 L96.7 224.4 L97.7 224.4 L98.7 224.4 L99.7 224.4 L100.7 224.4 L101.7 224.4 L102.7 224.4 L103.7 224.4 L104.7 224.4 L105.7 224.4 L106.7 224.4 L107.7 224.4 L108.0 224.4 L108.7 224.3 L109.7 224.1 L110.0 224.1 L110.7 223.8 L111.7 223.3 L112.4 222.6 L112.5 222.5 L112.7 221.9 L112.9 221.0 L113.1 219.9 L113.2 218.8 L113.3 217.6 L113.4 216.5 L113.6 215.4 L113.6 215.0 L113.7 214.3 L113.8 213.3 L113.9 212.3 L114.0 211.4 L114.2 210.4 L114.3 209.4 L114.4 208.4 L114.5 207.4 L114.6 206.4 L114.6 206.0 L114.7 205.4 L114.7 204.4 L114.8 203.4 L114.9 202.4 L115.0 201.4 L115.0 200.4 L115.1 199.4 L115.2 198.4 L115.2 198.0 L115.2 197.4 L115.3 196.4 L115.4 195.4 L115.4 194.4 L115.5 193.4 L115.6 192.4 L115.6 191.4 L115.7 190.4 L115.7 190.0 L115.7 189.4 L115.8 188.4 L115.8 187.4 L115.9 186.4 L115.9 185.4 L116.0 184.4 L116.0 183.4 L116.1 182.4 L116.1 181.4 L116.2 180.4 L116.2 179.4 L116.3 178.4 L116.3 177.4 L116.4 176.4 L116.4 175.4 L116.5 174.5 L116.5 173.5 L116.6 172.5 L116.6 171.5 L116.6 170.5 L116.7 169.5 L116.7 168.5 L116.8 167.5 L116.8 166.5 L116.8 165.5 L116.9 164.5 L116.9 163.5 L117.0 162.5 L117.0 161.5 L117.1 160.5 L117.1 159.5 L117.1 158.5 L117.2 157.5 L117.2 157.0 L117.2 156.5 L117.3 155.5 L117.3 154.5 L117.3 153.5 L117.4 152.5 L117.4 151.5 L117.5 150.5 L117.5 149.5 L117.5 148.5 L117.6 147.5 L117.6 146.5 L117.6 145.5 L117.7 144.5 L117.7 143.5 L117.7 142.5 L117.8 141.5 L117.8 140.5 L117.8 139.5 L117.9 138.5 L117.9 137.5 L117.9 136.5 L118.0 135.5 L118.0 134.5 L118.0 133.5 L118.1 132.5 L118.1 131.5 L118.1 130.5 L118.2 129.5 L118.2 128.5 L118.2 127.5 L118.3 126.5 L118.3 125.5 L118.4 124.5 L118.4 123.5 L118.4 122.5 L118.5 121.5 L118.5 120.5 L118.6 119.5 L118.6 118.5 L118.7 117.5 L118.7 117.0 L118.7 116.5 L118.8 115.5 L118.8 114.5 L118.9 113.5 L118.9 112.5 L119.0 111.5 L119.0 110.5 L119.1 109.5 L119.2 108.5 L119.2 107.5 L119.3 106.5 L119.4 105.5 L119.4 104.5 L119.5 103.5 L119.6 102.5 L119.6 101.5 L119.7 100.5 L119.8 99.5 L119.8 98.5 L119.9 97.6 L120.0 96.6 L120.1 95.6 L120.1 94.6 L120.2 93.6 L120.3 92.6 L120.4 91.6 L120.4 90.6 L120.5 89.6 L120.6 88.6 L120.7 87.6 L120.7 86.6 L120.8 85.6 L120.9 84.6 L121.0 83.6 L121.1 82.6 L121.1 81.6 L121.2 80.6 L121.3 79.6 L121.4 78.6 L121.5 77.6 L121.5 77.0 L121.5 76.6 L121.6 75.6 L121.7 74.6 L121.8 73.6 L121.8 72.6 L121.9 71.6 L122.0 70.6 L122.0 69.6 L122.1 68.6 L122.2 67.6 L122.3 66.6 L122.3 65.6 L122.4 64.6 L122.5 63.6 L122.6 62.6 L122.7 61.6 L122.8 60.6 L123.0 59.7 L123.1 58.7 L123.2 58.0 L123.2 57.7 L123.4 56.7 L123.7 55.8 L124.0 54.8 L124.3 53.8 L124.6 52.9 L124.9 51.9 L125.2 51.0 L125.2 51.0 L125.5 50.0 L125.8 49.1 L126.1 48.1 L126.4 47.2 L126.7 46.2 L127.0 45.5 L127.1 45.3 L127.4 44.3 L127.8 43.4 L128.2 42.5 L128.4 42.0 L128.6 41.5 L129.1 40.4 L129.5 39.7 L129.6 39.7 L130.0 40.1 L130.5 41.2 L130.8 42.0 L130.9 42.2 L131.3 43.2 L131.7 44.1 L132.1 45.0 L132.4 46.0 L132.4 46.0 L132.6 46.9 L132.8 47.9 L133.0 48.9 L133.2 49.8 L133.4 50.8 L133.5 51.8 L133.7 52.8 L133.8 53.8 L133.9 54.8 L134.1 55.8 L134.2 56.8 L134.2 57.0 L134.3 57.8 L134.4 58.8 L134.6 59.8 L134.7 60.8 L134.8 61.8 L134.9 62.8 L135.0 63.8 L135.2 64.8 L135.3 65.8 L135.4 66.7 L135.5 67.7 L135.6 68.7 L135.7 69.7 L135.8 70.7 L135.9 71.7 L135.9 72.7 L136.0 73.7 L136.1 74.7 L136.1 75.7 L136.2 76.7 L136.2 77.0 L136.2 77.7 L136.3 78.7 L136.3 79.7 L136.3 80.7 L136.4 81.7 L136.4 82.7 L136.4 83.7 L136.5 84.7 L136.5 85.7 L136.5 86.7 L136.6 87.7 L136.6 88.7 L136.6 89.7 L136.6 90.7 L136.7 91.7 L136.7 92.7 L136.7 93.7 L136.7 94.7 L136.8 95.7 L136.8 96.7 L136.8 97.7 L136.8 98.7 L136.8 99.7 L136.8 100.7 L136.9 101.7 L136.9 102.7 L136.9 103.7 L136.9 104.7 L136.9 105.7 L137.0 106.7 L137.0 107.7 L137.0 108.7 L137.0 109.7 L137.0 110.7 L137.1 111.7 L137.1 112.7 L137.1 113.7 L137.1 114.7 L137.2 115.7 L137.2 116.7 L137.2 117.0 L137.2 117.7 L137.2 118.7 L137.3 119.7 L137.3 120.7 L137.3 121.7 L137.3 122.7 L137.4 123.7 L137.4 124.7 L137.4 125.7 L137.4 126.7 L137.5 127.7 L137.5 128.7 L137.5 129.7 L137.5 130.7 L137.6 131.7 L137.6 132.7 L137.6 133.7 L137.7 134.7 L137.7 135.7 L137.7 136.7 L137.7 137.7 L137.8 138.7 L137.8 139.7 L137.8 140.7 L137.8 141.7 L137.9 142.7 L137.9 143.7 L137.9 144.7 L138.0 145.7 L138.0 146.7 L138.0 147.7 L138.1 148.7 L138.1 149.7 L138.1 150.7 L138.2 151.7 L138.2 152.7 L138.3 153.7 L138.3 154.7 L138.3 155.7 L138.4 156.7 L138.4 157.0 L138.4 157.7 L138.5 158.7 L138.5 159.7 L138.6 160.6 L138.6 161.6 L138.7 162.6 L138.8 163.6 L138.8 164.6 L138.9 165.6 L139.0 166.6 L139.1 167.6 L139.1 168.6 L139.2 169.6 L139.3 170.6 L139.4 171.6 L139.5 172.6 L139.6 173.6 L139.7 174.6 L139.7 175.6 L139.8 176.6 L139.9 177.6 L140.0 178.6 L140.1 179.6 L140.2 180.6 L140.3 181.6 L140.4 182.6 L140.5 183.6 L140.6 184.6 L140.7 185.6 L140.8 186.6 L140.9 187.5 L141.0 188.5 L141.1 189.5 L141.1 190.0 L141.1 190.5 L141.2 191.5 L141.3 192.5 L141.4 193.5 L141.5 194.5 L141.6 195.5 L141.7 196.5 L141.8 197.5 L141.9 198.0 L142.0 198.5 L142.2 199.5 L142.4 200.4 L142.6 201.4 L142.8 202.4 L143.1 203.4 L143.3 204.3 L143.5 205.3 L143.6 206.0 L143.6 206.3 L143.8 207.3 L143.9 208.3 L143.9 209.3 L144.1 210.3 L144.2 211.3 L144.2 211.3 L144.4 212.3 L144.6 213.3 L144.9 214.3 L145.2 215.4 L145.5 216.4 L145.9 217.5 L146.3 218.4 L146.7 219.4 L147.2 220.2 L147.5 220.7 L147.7 221.0 L148.6 221.7 L149.5 222.5 L150.5 223.0 L151.1 223.2 L151.1 223.2 L151.6 223.0 L152.0 222.4 L152.4 221.4 L152.7 220.3 L153.0 219.0 L153.3 217.7 L153.6 216.4 L153.8 215.2 L154.0 214.5 L154.1 214.2 L154.4 213.2 L154.6 212.2 L154.8 211.3 L155.1 210.3 L155.3 209.3 L155.5 208.3 L155.7 207.3 L155.9 206.4 L156.1 205.4 L156.3 204.4 L156.4 203.4 L156.5 203.1 L156.6 202.4 L156.8 201.4 L156.9 200.4 L157.1 199.5 L157.3 198.5 L157.4 197.5 L157.6 196.5 L157.7 195.5 L157.8 194.5 L157.9 193.5 L158.0 192.5 L158.1 192.0 L158.1 191.5 L158.2 190.5 L158.3 189.5 L158.4 188.5 L158.5 187.6 L158.6 186.6 L158.7 185.6 L158.8 184.6 L158.8 183.6 L158.9 182.6 L159.0 181.6 L159.1 180.6 L159.1 179.6 L159.2 178.6 L159.3 177.6 L159.3 176.6 L159.4 175.6 L159.5 174.6 L159.5 173.6 L159.6 172.6 L159.6 171.6 L159.7 170.6 L159.8 169.6 L159.8 168.6 L159.9 167.6 L159.9 166.6 L160.0 165.6 L160.1 164.6 L160.1 163.6 L160.2 162.6 L160.2 161.6 L160.3 160.6 L160.3 159.6 L160.4 158.6 L160.5 157.6 L160.5 157.0 L160.5 156.6 L160.6 155.6 L160.6 154.6 L160.7 153.6 L160.8 152.6 L160.8 151.6 L160.9 150.6 L160.9 149.6 L161.0 148.6 L161.0 147.6 L161.1 146.6 L161.1 145.6 L161.2 144.6 L161.2 143.6 L161.3 142.6 L161.3 141.6 L161.4 140.6 L161.4 139.6 L161.5 138.6 L161.5 137.6 L161.6 136.6 L161.6 135.7 L161.7 134.7 L161.7 133.7 L161.8 132.7 L161.8 131.7 L161.9 130.7 L161.9 129.7 L162.0 128.7 L162.0 127.7 L162.1 126.7 L162.2 125.7 L162.2 124.7 L162.3 123.7 L162.3 122.7 L162.4 121.7 L162.5 120.7 L162.5 119.7 L162.6 118.7 L162.7 117.7 L162.7 117.0 L162.7 116.7 L162.8 115.7 L162.9 114.7 L162.9 113.7 L163.0 112.7 L163.1 111.7 L163.2 110.7 L163.3 109.7 L163.3 108.7 L163.4 107.7 L163.5 106.7 L163.6 105.7 L163.7 104.7 L163.8 103.7 L163.9 102.7 L164.0 101.8 L164.1 100.8 L164.2 99.8 L164.3 98.8 L164.4 97.8 L164.5 96.8 L164.6 95.8 L164.7 94.8 L164.8 93.8 L164.9 92.8 L165.0 91.8 L165.1 90.8 L165.2 89.8 L165.3 88.8 L165.4 87.8 L165.5 86.8 L165.6 85.8 L165.7 84.8 L165.8 83.8 L165.9 82.8 L166.0 81.9 L166.1 80.9 L166.2 79.9 L166.3 78.9 L166.4 77.9 L166.5 77.0 L166.5 76.9 L166.6 75.9 L166.7 74.9 L166.8 73.9 L166.9 72.9 L167.0 71.9 L167.1 70.9 L167.2 69.9 L167.3 68.9 L167.4 67.9 L167.5 66.9 L167.6 65.9 L167.8 64.9 L167.9 64.0 L167.9 63.8 L168.0 63.0 L168.2 62.0 L168.3 61.0 L168.5 60.0 L168.6 59.0 L168.8 58.0 L169.0 57.0 L169.2 56.1 L169.4 55.1 L169.6 54.1 L169.6 54.0 L169.8 53.1 L170.0 52.1 L170.2 51.1 L170.4 50.1 L170.6 49.1 L170.8 48.1 L171.0 47.1 L171.3 46.1 L171.6 45.2 L171.9 44.4 L172.0 44.2 L172.4 43.5 L173.0 42.5 L173.7 41.5 L174.4 40.7 L175.2 40.0 L175.9 39.7 L176.1 39.7 L176.5 39.8 L177.2 40.3 L177.8 41.0 L178.4 42.0 L179.0 43.0 L179.5 44.1 L179.9 45.2 L180.2 45.8 L180.3 46.1 L180.7 47.0 L181.0 48.0 L181.4 48.9 L181.6 49.9 L181.9 50.8 L182.2 51.8 L182.4 52.8 L182.7 53.8 L182.9 54.8 L183.1 55.6 L183.1 55.7 L183.3 56.7 L183.5 57.7 L183.7 58.7 L183.9 59.6 L184.1 60.6 L184.3 61.6 L184.4 62.6 L184.6 63.6 L184.7 64.6 L184.9 65.5 L184.9 65.6 L185.1 66.6 L185.2 67.5 L185.4 68.5 L185.6 69.5 L185.7 70.5 L185.9 71.5 L186.1 72.5 L186.2 73.5 L186.4 74.5 L186.5 75.4 L186.6 76.4 L186.7 77.0 L186.8 77.4 L186.9 78.4 L187.0 79.4 L187.1 80.4 L187.2 81.4 L187.4 82.4 L187.5 83.4 L187.6 84.4 L187.7 85.4 L187.8 86.4 L187.9 87.3 L188.0 88.3 L188.1 89.3 L188.2 90.3 L188.3 91.3 L188.4 92.3 L188.5 93.3 L188.6 94.3 L188.7 95.3 L188.8 96.3 L188.9 97.3 L189.0 98.3 L189.1 99.3 L189.2 100.3 L189.3 101.3 L189.4 102.3 L189.5 103.3 L189.6 104.3 L189.6 105.3 L189.7 106.3 L189.8 107.3 L189.9 108.3 L190.0 109.3 L190.1 110.3 L190.1 111.2 L190.2 112.2 L190.3 113.2 L190.4 114.2 L190.5 115.2 L190.5 116.2 L190.6 117.0 L190.6 117.2 L190.7 118.2 L190.8 119.2 L190.8 120.2 L190.9 121.2 L191.0 122.2 L191.0 123.2 L191.1 124.2 L191.2 125.2 L191.2 126.2 L191.3 127.2 L191.4 128.2 L191.4 129.2 L191.5 130.2 L191.5 131.2 L191.6 132.2 L191.7 133.2 L191.7 134.2 L191.8 135.2 L191.8 136.2 L191.9 137.2 L191.9 138.2 L192.0 139.2 L192.1 140.2 L192.1 141.2 L192.2 142.2 L192.2 143.2 L192.3 144.2 L192.4 145.2 L192.4 146.2 L192.5 147.2 L192.5 148.2 L192.6 149.2 L192.7 150.2 L192.7 151.2 L192.8 152.2 L192.8 153.2 L192.9 154.1 L193.0 155.1 L193.0 156.1 L193.1 157.0 L193.1 157.1 L193.2 158.1 L193.3 159.1 L193.3 160.1 L193.4 161.1 L193.5 162.1 L193.6 163.1 L193.6 164.1 L193.7 165.1 L193.8 166.1 L193.9 167.1 L194.0 168.1 L194.0 169.1 L194.1 170.1 L194.2 171.1 L194.3 172.1 L194.4 173.1 L194.5 174.1 L194.5 175.1 L194.6 176.1 L194.7 177.1 L194.8 178.1 L194.9 179.1 L195.0 180.1 L195.0 181.1 L195.1 182.1 L195.2 183.1 L195.3 184.0 L195.3 185.0 L195.4 186.0 L195.5 187.0 L195.6 188.0 L195.6 189.0 L195.7 190.0 L195.7 190.0 L195.8 191.0 L195.8 192.0 L195.9 193.0 L195.9 194.0 L196.0 195.0 L196.0 196.0 L196.1 197.0 L196.2 198.0 L196.2 198.0 L196.3 199.0 L196.4 200.0 L196.6 201.0 L196.7 202.0 L196.9 203.0 L197.1 203.9 L197.2 204.9 L197.4 205.9 L197.5 206.4 L197.6 206.9 L197.7 207.9 L197.9 208.9 L198.1 210.0 L198.2 211.0 L198.4 212.0 L198.6 213.0 L198.8 213.9 L199.1 214.9 L199.3 215.8 L199.5 216.3 L199.7 216.7 L200.2 217.6 L200.8 218.5 L201.6 219.3 L202.3 220.1 L203.0 220.7 L203.1 220.7 L203.9 221.3 L204.8 221.9 L205.7 222.4 L206.6 222.8 L206.7 222.8 L207.6 223.0 L208.5 223.2 L209.5 223.4 L210.5 223.6 L211.5 223.7 L212.5 223.8 L213.0 223.9 L213.5 223.9 L214.5 224.0 L215.5 224.1 L216.5 224.2 L217.5 224.3 L218.5 224.4 L219.5 224.5 L220.5 224.5" fill="none" stroke="#ffa500" stroke-width="1.55" stroke-linejoin="round" stroke-linecap="square"/>
<path d="M326.3 224.5 L327.3 224.5 L328.3 224.5 L329.3 224.5 L330.3 224.5 L331.3 224.5 L332.3 224.5 L333.3 224.5 L334.3 224.4 L335.3 224.4 L336.3 224.4 L337.3 224.4 L338.3 224.4 L339.3 224.4 L340.3 224.3 L341.3 224.3 L342.3 224.3 L343.3 224.3 L344.3 224.2 L345.3 224.2 L346.3 224.2 L347.3 224.1 L348.3 224.1 L349.3 224.1 L349.3 224.1 L350.3 224.0 L351.3 224.0 L352.3 223.9 L353.3 223.8 L354.3 223.7 L355.3 223.6 L356.2 223.4 L357.2 223.3 L357.5 223.2 L358.2 223.1 L359.2 222.8 L360.2 222.4 L361.1 221.9 L362.0 221.4 L362.8 220.8 L363.0 220.7 L363.4 220.2 L364.1 219.4 L364.6 218.6 L365.2 217.6 L365.6 216.5 L366.0 215.5 L366.4 214.5 L366.4 214.5 L366.7 213.6 L366.9 212.7 L367.2 211.7 L367.4 210.8 L367.6 209.8 L367.8 208.8 L367.9 207.8 L368.1 206.8 L368.3 205.8 L368.4 204.8 L368.6 203.8 L368.7 203.1 L368.8 202.8 L368.9 201.8 L369.1 200.8 L369.2 199.8 L369.4 198.9 L369.5 198.0 L369.5 197.9 L369.7 196.9 L369.8 195.9 L370.0 194.9 L370.1 193.9 L370.2 192.9 L370.4 191.9 L370.5 191.0 L370.6 190.0 L370.6 190.0 L370.7 189.0 L370.8 188.0 L370.9 187.0 L371.0 186.0 L371.1 185.0 L371.2 184.0 L371.3 183.0 L371.4 182.0 L371.4 181.0 L371.5 180.0 L371.6 179.0 L371.7 178.0 L371.8 177.0 L371.9 176.1 L371.9 175.1 L372.0 174.1 L372.1 173.1 L372.1 172.1 L372.2 171.1 L372.3 170.1 L372.4 169.1 L372.4 168.1 L372.5 167.1 L372.6 166.1 L372.6 165.1 L372.7 164.1 L372.8 163.1 L372.8 162.1 L372.9 161.1 L373.0 160.1 L373.1 159.1 L373.1 158.1 L373.2 157.1 L373.2 157.0 L373.3 156.1 L373.3 155.1 L373.4 154.1 L373.5 153.1 L373.5 152.1 L373.6 151.2 L373.7 150.2 L373.7 149.2 L373.8 148.2 L373.9 147.2 L373.9 146.2 L374.0 145.2 L374.1 144.2 L374.1 143.2 L374.2 142.2 L374.3 141.2 L374.3 140.2 L374.4 139.2 L374.4 138.2 L374.5 137.2 L374.6 136.2 L374.6 135.2 L374.7 134.2 L374.8 133.2 L374.8 132.2 L374.9 131.2 L374.9 130.2 L375.0 129.2 L375.1 128.2 L375.1 127.2 L375.2 126.2 L375.3 125.3 L375.3 124.3 L375.4 123.3 L375.5 122.3 L375.5 121.3 L375.6 120.3 L375.6 119.3 L375.7 118.3 L375.8 117.3 L375.8 117.0 L375.8 116.3 L375.9 115.3 L376.0 114.3 L376.0 113.3 L376.1 112.3 L376.2 111.3 L376.2 110.3 L376.3 109.3 L376.4 108.3 L376.4 107.3 L376.5 106.3 L376.5 105.3 L376.6 104.3 L376.7 103.3 L376.7 102.3 L376.8 101.3 L376.9 100.3 L376.9 99.3 L377.0 98.4 L377.0 97.4 L377.1 96.4 L377.2 95.4 L377.2 94.4 L377.3 93.4 L377.4 92.4 L377.4 91.4 L377.5 90.4 L377.6 89.4 L377.7 88.4 L377.7 87.4 L377.8 86.4 L377.9 85.4 L378.0 84.4 L378.0 83.4 L378.1 82.4 L378.2 81.4 L378.3 80.4 L378.4 79.4 L378.5 78.4 L378.6 77.5 L378.6 77.0 L378.7 76.5 L378.7 75.5 L378.9 74.5 L379.0 73.5 L379.1 72.5 L379.2 71.5 L379.3 70.5 L379.4 69.5 L379.6 68.5 L379.7 67.5 L379.8 66.6 L380.0 65.6 L380.1 64.6 L380.2 63.8 L380.2 63.6 L380.4 62.6 L380.5 61.6 L380.6 60.6 L380.8 59.6 L380.9 58.6 L381.1 57.7 L381.2 56.7 L381.4 55.7 L381.5 54.7 L381.7 53.7 L381.8 52.7 L381.9 52.4 L382.0 51.7 L382.2 50.7 L382.3 49.7 L382.5 48.8 L382.7 47.8 L382.9 46.8 L383.1 45.8 L383.3 45.0 L383.3 44.9 L383.6 43.8 L384.0 42.7 L384.4 41.6 L384.9 40.7 L385.5 40.1 L385.8 40.0 L386.2 39.9 L387.3 39.8 L388.0 39.8 L388.3 39.8 L389.4 40.0 L390.4 40.4 L391.2 40.9 L391.2 40.9 L391.7 41.4 L392.2 42.1 L392.6 43.0 L393.0 43.9 L393.4 45.0 L393.7 46.0 L394.0 47.1 L394.2 48.2 L394.5 49.1 L394.5 49.2 L394.8 50.1 L395.0 51.1 L395.3 52.0 L395.5 53.0 L395.7 54.0 L395.9 55.0 L396.1 56.0 L396.3 56.9 L396.5 57.9 L396.6 58.9 L396.8 59.9 L396.9 60.5 L397.0 60.9 L397.1 61.9 L397.2 62.9 L397.4 63.8 L397.5 64.8 L397.6 65.8 L397.8 66.8 L397.9 67.8 L398.0 68.8 L398.1 69.8 L398.2 70.8 L398.3 71.8 L398.4 72.8 L398.5 73.8 L398.6 74.8 L398.7 75.8 L398.8 76.8 L398.8 77.0 L398.9 77.7 L399.0 78.7 L399.0 79.7 L399.1 80.7 L399.2 81.7 L399.3 82.7 L399.4 83.7 L399.4 84.7 L399.5 85.7 L399.6 86.7 L399.7 87.7 L399.7 88.7 L399.8 89.7 L399.9 90.7 L400.0 91.7 L400.0 92.7 L400.1 93.7 L400.2 94.7 L400.2 95.7 L400.3 96.7 L400.4 97.7 L400.4 98.6 L400.5 99.6 L400.6 100.6 L400.6 101.6 L400.7 102.6 L400.7 103.6 L400.8 104.6 L400.9 105.6 L400.9 106.6 L401.0 107.6 L401.1 108.6 L401.1 109.6 L401.2 110.6 L401.3 111.6 L401.3 112.6 L401.4 113.6 L401.4 114.6 L401.5 115.6 L401.6 116.6 L401.6 117.0 L401.6 117.6 L401.7 118.6 L401.8 119.6 L401.8 120.6 L401.9 121.6 L402.0 122.6 L402.0 123.6 L402.1 124.6 L402.2 125.5 L402.2 126.5 L402.3 127.5 L402.3 128.5 L402.4 129.5 L402.5 130.5 L402.5 131.5 L402.6 132.5 L402.7 133.5 L402.7 134.5 L402.8 135.5 L402.8 136.5 L402.9 137.5 L403.0 138.5 L403.0 139.5 L403.1 140.5 L403.2 141.5 L403.2 142.5 L403.3 143.5 L403.3 144.5 L403.4 145.5 L403.5 146.5 L403.5 147.5 L403.6 148.5 L403.6 149.5 L403.7 150.5 L403.8 151.4 L403.8 152.4 L403.9 153.4 L403.9 154.4 L404.0 155.4 L404.1 156.4 L404.1 157.0 L404.1 157.4 L404.2 158.4 L404.2 159.4 L404.3 160.4 L404.3 161.4 L404.4 162.4 L404.4 163.4 L404.5 164.4 L404.5 165.4 L404.6 166.4 L404.6 167.4 L404.7 168.4 L404.7 169.4 L404.8 170.4 L404.8 171.4 L404.9 172.4 L404.9 173.4 L405.0 174.4 L405.0 175.4 L405.1 176.4 L405.1 177.4 L405.2 178.4 L405.2 179.4 L405.3 180.4 L405.4 181.4 L405.4 182.4 L405.5 183.4 L405.6 184.3 L405.6 185.3 L405.7 186.3 L405.8 187.3 L405.9 188.3 L405.9 189.3 L406.0 190.0 L406.0 190.3 L406.1 191.3 L406.3 192.3 L406.4 193.3 L406.5 194.3 L406.7 195.3 L406.8 196.2 L407.0 197.2 L407.1 198.0 L407.1 198.2 L407.3 199.2 L407.4 200.2 L407.5 201.2 L407.7 202.2 L407.8 203.2 L408.0 204.2 L408.1 205.1 L408.3 205.9 L408.3 206.1 L408.6 207.1 L409.0 208.0 L409.3 208.9 L409.7 209.9 L410.0 210.5 L410.1 210.8 L410.5 211.7 L411.0 212.6 L411.4 213.5 L411.9 214.3 L412.0 214.5 L412.4 215.2 L413.0 216.1 L413.6 216.9 L414.3 217.7 L414.3 217.8 L415.0 218.5 L415.8 219.2 L416.6 219.8 L417.0 220.1 L417.4 220.4 L418.2 221.0 L419.1 221.5 L420.0 221.9 L420.0 221.9 L420.9 222.4 L421.9 222.8 L422.8 223.1 L423.2 223.2 L423.8 223.3 L424.7 223.5 L425.7 223.7 L426.7 223.8 L427.7 223.9 L428.0 224.0 L428.7 224.0 L429.7 224.2 L430.7 224.2 L431.7 224.3 L432.7 224.4" fill="none" stroke="#ffa500" stroke-width="1.55" stroke-linejoin="round" stroke-linecap="square"/>
<path d="M60.4 224.5 L61.4 224.5 L62.4 224.5 L63.4 224.5 L64.4 224.5 L65.4 224.5 L66.4 224.5 L67.4 224.5 L68.4 224.5 L68.6 224.5" fill="none" stroke="#ff00ff" stroke-width="1.65" stroke-linejoin="round" stroke-linecap="butt" stroke-dasharray="1.37 2.27" stroke-dashoffset="0.00"/>
<path d="M68.6 224.5 L69.3 224.5 L69.4 224.5 L69.9 223.7 L70.2 222.5 L70.2 222.5 L70.2 221.5 L70.3 220.5 L70.3 219.4 L70.3 218.4 L70.4 217.4 L70.4 216.3 L70.4 215.3 L70.5 214.2 L70.5 213.2 L70.5 212.2 L70.5 211.2 L70.5 210.2 L70.5 209.2 L70.6 208.2 L70.6 207.2 L70.6 206.1 L70.6 205.1 L70.6 204.1 L70.6 203.1 L70.6 202.1 L70.6 201.1 L70.6 200.0 L70.6 199.0 L70.6 198.0 L70.6 198.0 L70.6 197.0 L70.6 196.0 L70.6 195.0 L70.6 194.0 L70.6 193.0 L70.6 192.0 L70.6 191.0 L70.6 190.0 L70.6 189.0 L70.6 188.1 L70.6 187.1 L70.6 186.1 L70.6 185.1 L70.6 184.1 L70.6 183.1 L70.6 182.1 L70.6 181.1 L70.6 180.1 L70.6 179.1 L70.6 178.1 L70.6 177.1 L70.6 176.1 L70.6 175.1 L70.6 174.1 L70.6 173.1 L70.6 172.1 L70.6 171.1 L70.6 170.1 L70.6 169.1 L70.6 168.1 L70.6 167.1 L70.6 166.1 L70.6 165.1 L70.6 164.1 L70.6 163.1 L70.6 162.1 L70.6 161.1 L70.6 160.1 L70.6 159.1 L70.6 158.1 L70.6 157.1 L70.6 157.0 L70.6 156.1 L70.6 155.1 L70.6 154.1 L70.6 153.1 L70.6 152.1 L70.6 151.1 L70.6 150.1 L70.6 149.1 L70.6 148.1 L70.6 147.1 L70.6 146.1 L70.6 145.1 L70.6 144.1 L70.6 143.1 L70.6 142.1 L70.6 141.1 L70.6 140.1 L70.6 139.1 L70.6 138.1 L70.6 137.1 L70.6 136.1 L70.6 135.1 L70.6 134.1 L70.6 133.1 L70.6 132.1 L70.6 131.1 L70.6 130.1 L70.6 129.1 L70.6 128.1 L70.6 127.1 L70.6 126.1 L70.6 125.1 L70.6 124.1 L70.6 123.1 L70.6 122.1 L70.6 121.1 L70.6 120.1 L70.6 119.1 L70.6 118.1 L70.6 118.0 L70.6 117.1 L70.6 116.1 L70.6 115.1 L70.6 114.1 L70.6 113.1 L70.6 112.1 L70.7 111.1 L70.7 110.1 L70.7 109.1 L70.7 108.1 L70.7 107.1 L70.8 106.1 L70.8 105.1 L70.8 104.1 L70.8 103.1 L70.9 102.1 L70.9 101.1 L70.9 100.1 L71.0 99.1 L71.0 98.1 L71.0 97.1 L71.1 96.1 L71.1 95.1 L71.2 94.1 L71.2 93.2 L71.2 92.2 L71.3 91.2 L71.3 90.2 L71.4 89.2 L71.4 88.2 L71.4 87.2 L71.5 86.2 L71.5 85.2 L71.6 84.2 L71.6 83.2 L71.6 82.2 L71.7 81.2 L71.7 80.2 L71.8 79.2 L71.8 78.2 L71.9 77.2 L71.9 76.2 L71.9 76.0 L71.9 75.2 L72.0 74.2 L72.0 73.2 L72.0 72.2 L72.1 71.2 L72.1 70.2 L72.2 69.2 L72.2 68.2 L72.3 67.2 L72.3 66.2 L72.4 65.5 L72.4 65.2 L72.5 64.2 L72.7 63.2 L72.8 62.3 L73.0 61.3 L73.2 60.3 L73.5 59.3 L73.7 58.4 L74.0 57.4 L74.3 56.4 L74.6 55.5 L74.8 54.5 L75.1 53.5 L75.4 52.6 L75.7 51.6 L75.9 50.6 L76.2 49.7 L76.4 48.7 L76.5 48.3 L76.6 47.7 L76.8 46.5 L77.1 45.2 L77.3 43.9 L77.5 42.7 L77.7 41.6 L77.9 40.7 L78.0 40.1 L78.2 39.9 L78.2 39.9 L78.3 40.1 L78.5 40.8 L78.6 41.8 L78.7 43.1 L78.8 44.5 L78.9 46.0 L79.0 47.4 L79.1 48.8 L79.2 50.0 L79.3 50.9 L79.5 51.4 L79.6 51.5 L79.7 51.5 L79.9 51.0 L80.2 50.0 L80.5 48.8 L80.8 47.4 L81.2 46.0 L81.5 44.7 L81.8 43.8 L82.1 43.2 L82.2 43.2 L82.4 43.4 L82.6 44.2 L82.9 45.5 L83.0 46.7 L83.0 47.0" fill="none" stroke="#ff00ff" stroke-width="1.65" stroke-linejoin="round" stroke-linecap="butt" stroke-dasharray="1.37 2.27" stroke-dashoffset="0.17"/>
<path d="M83.0 47.0 L83.0 47.7 L83.0 48.7 L83.0 49.7 L83.0 50.7 L83.0 51.7 L83.0 52.7 L83.0 53.7 L83.0 54.7 L83.0 55.7 L83.0 56.7 L83.0 57.7 L83.0 58.7 L83.0 59.7 L83.0 60.7 L83.0 61.7 L83.0 62.7 L83.0 63.7 L83.0 64.7 L83.0 65.7 L83.0 66.7 L83.0 67.7 L83.0 68.7 L83.0 69.7 L83.0 70.7 L83.0 71.7 L83.0 72.7 L83.0 73.7 L83.0 74.7 L83.0 75.7 L83.0 76.0 L83.0 76.7 L83.0 77.7 L83.0 78.7 L83.0 79.7 L83.0 80.7 L83.0 81.7 L83.0 82.7 L83.0 83.7 L83.0 84.7 L83.1 85.7 L83.1 86.7 L83.1 87.7 L83.1 88.7 L83.1 89.7 L83.1 90.7 L83.1 91.7 L83.1 92.7 L83.2 93.7 L83.2 94.7 L83.2 95.7 L83.2 96.7 L83.2 97.7 L83.2 98.7 L83.3 99.7 L83.3 100.7 L83.3 101.7 L83.3 102.7 L83.3 103.7 L83.3 104.7 L83.4 105.7 L83.4 106.7 L83.4 107.7 L83.4 108.7 L83.4 109.7 L83.4 110.7 L83.4 111.7 L83.5 112.7 L83.5 113.7 L83.5 114.7 L83.5 115.7 L83.5 116.7 L83.5 117.0 L83.5 117.7 L83.5 118.7 L83.5 119.7 L83.5 120.7 L83.5 121.7 L83.5 122.7 L83.6 123.7 L83.6 124.7 L83.6 125.7 L83.6 126.7 L83.6 127.6 L83.6 128.6 L83.6 129.6 L83.6 130.6 L83.6 131.6 L83.6 132.6 L83.6 133.6 L83.6 134.6 L83.6 135.6 L83.7 136.6 L83.7 137.6 L83.7 138.6 L83.7 139.6 L83.7 140.6 L83.7 141.6 L83.7 142.6 L83.7 143.6 L83.7 144.6 L83.7 145.6 L83.7 146.6 L83.7 147.6 L83.7 148.6 L83.7 149.6 L83.7 150.6 L83.8 151.6 L83.8 152.6 L83.8 153.6 L83.8 154.6 L83.8 155.6 L83.8 156.6 L83.8 157.0 L83.8 157.6 L83.8 158.6 L83.8 159.6 L83.8 160.6 L83.8 161.6 L83.8 162.6 L83.9 163.6 L83.9 164.6 L83.9 165.6 L83.9 166.6 L83.9 167.6 L83.9 168.6 L83.9 169.6 L83.9 170.6 L83.9 171.6 L83.9 172.6 L83.9 173.6 L84.0 174.6 L84.0 175.6 L84.0 176.6 L84.0 177.6 L84.0 178.6 L84.0 179.6 L84.0 180.6 L84.0 181.6 L84.0 182.6 L84.0 183.6 L84.0 184.6 L84.1 185.6 L84.1 186.6 L84.1 187.6 L84.1 188.6 L84.1 189.6 L84.1 190.6 L84.1 191.6 L84.1 192.6 L84.1 193.6 L84.2 194.6 L84.2 195.6 L84.2 196.6 L84.2 197.6 L84.2 198.0 L84.2 198.6 L84.2 199.6 L84.2 200.6 L84.2 201.6 L84.2 202.6 L84.3 203.6 L84.3 204.7 L84.3 205.7 L84.3 206.7 L84.3 207.7 L84.3 208.8 L84.3 209.8 L84.3 210.8 L84.3 211.8 L84.3 212.8 L84.4 213.8 L84.4 214.8 L84.4 215.9 L84.4 216.9 L84.4 218.0 L84.5 219.0 L84.5 220.0 L84.5 221.0 L84.6 222.0 L84.6 222.5 L84.7 223.1 L85.2 224.2 L85.6 224.5 L85.9 224.5 L86.8 224.5 L88.0 224.5" fill="none" stroke="#ff00ff" stroke-width="1.65" stroke-linejoin="round" stroke-linecap="butt" stroke-dasharray="1.37 2.27" stroke-dashoffset="3.10"/>
<path d="M108.0 224.5 L109.0 224.5 L110.0 224.5 L111.0 224.5 L112.0 224.5 L113.0 224.5 L114.0 224.5 L115.0 224.5 L116.0 224.5 L116.0 224.5" fill="none" stroke="#ff00ff" stroke-width="1.65" stroke-linejoin="round" stroke-linecap="butt" stroke-dasharray="1.37 2.27" stroke-dashoffset="0.00"/>
<path d="M116.0 224.5 L116.6 224.5 L116.7 224.5 L116.8 224.1 L116.9 223.3 L117.0 222.3 L117.1 221.0 L117.1 219.7 L117.2 218.2 L117.2 216.9 L117.2 215.6 L117.2 215.0 L117.2 214.5 L117.2 213.5 L117.2 212.5 L117.2 211.5 L117.2 210.5 L117.2 209.5 L117.1 208.5 L117.1 207.5 L117.1 206.5 L117.1 205.5 L117.1 204.5 L117.0 203.5 L117.0 202.5 L117.0 201.5 L117.0 200.5 L117.0 199.5 L117.0 198.5 L117.0 198.0 L117.0 197.5 L117.0 196.5 L117.0 195.5 L117.0 194.5 L117.0 193.5 L117.0 192.5 L117.0 191.5 L117.0 190.5 L117.0 189.5 L117.1 188.5 L117.1 187.5 L117.1 186.5 L117.1 185.5 L117.1 184.5 L117.1 183.5 L117.1 182.5 L117.1 181.5 L117.2 180.5 L117.2 179.5 L117.2 178.5 L117.2 177.5 L117.2 176.5 L117.2 175.5 L117.3 174.5 L117.3 173.5 L117.3 172.5 L117.3 171.6 L117.3 170.6 L117.3 169.6 L117.3 168.6 L117.3 167.6 L117.4 166.6 L117.4 165.6 L117.4 164.6 L117.4 163.6 L117.4 162.6 L117.4 161.6 L117.4 160.6 L117.4 159.6 L117.4 158.6 L117.4 158.0 L117.4 157.6 L117.4 156.6 L117.4 155.6 L117.4 154.6 L117.4 153.6 L117.4 152.6 L117.4 151.6 L117.4 150.6 L117.4 149.6 L117.4 148.6 L117.4 147.6 L117.4 146.6 L117.4 145.6 L117.4 144.6 L117.4 143.6 L117.4 142.6 L117.4 141.6 L117.4 140.6 L117.4 139.6 L117.4 138.6 L117.4 137.6 L117.4 136.6 L117.4 135.6 L117.4 134.6 L117.4 133.6 L117.4 132.6 L117.4 131.6 L117.4 130.6 L117.4 129.6 L117.4 128.6 L117.4 127.6 L117.4 126.6 L117.4 125.6 L117.4 124.6 L117.4 123.6 L117.4 122.6 L117.4 121.6 L117.4 120.6 L117.4 119.6 L117.4 118.6 L117.4 118.0 L117.4 117.6 L117.4 116.6 L117.4 115.6 L117.4 114.6 L117.4 113.6 L117.4 112.6 L117.4 111.6 L117.4 110.6 L117.4 109.6 L117.4 108.6 L117.5 107.6 L117.5 106.6 L117.5 105.6 L117.5 104.6 L117.5 103.6 L117.5 102.6 L117.5 101.6 L117.5 100.6 L117.6 99.6 L117.6 98.6 L117.6 97.6 L117.6 96.6 L117.6 95.6 L117.6 94.6 L117.6 93.6 L117.7 92.6 L117.7 91.6 L117.7 90.6 L117.7 89.6 L117.7 88.6 L117.7 87.6 L117.8 86.6 L117.8 85.6 L117.8 84.6 L117.8 83.6 L117.8 82.6 L117.8 81.6 L117.8 80.6 L117.9 79.6 L117.9 78.6 L117.9 77.6 L117.9 76.6 L117.9 76.0 L117.9 75.6 L117.9 74.6 L117.9 73.6 L117.9 72.6 L117.9 71.6 L118.0 70.6 L118.0 69.6 L118.0 68.6 L118.0 67.6 L118.0 66.6 L118.0 65.6 L118.0 64.6 L118.0 63.6 L118.0 62.6 L118.0 61.6 L118.0 60.6 L118.0 59.6 L118.1 58.6 L118.1 57.6 L118.1 56.6 L118.1 55.6 L118.1 54.6 L118.1 53.6 L118.1 52.6 L118.2 51.6 L118.2 50.6 L118.2 50.0 L118.2 49.6 L118.2 48.6 L118.3 47.5 L118.3 46.5 L118.3 45.4 L118.4 44.4 L118.5 43.4 L118.6 42.5 L118.7 41.8 L118.7 41.6 L119.5 40.8 L119.6 40.8 L120.0 41.3 L120.4 42.6 L120.8 43.2 L120.9 43.2 L121.5 42.4 L122.1 41.2 L122.5 40.8 L122.6 40.8 L122.9 41.4 L123.1 42.5 L123.3 43.8 L123.5 44.5 L123.6 44.9 L123.8 45.9 L124.0 46.9 L124.2 47.9 L124.4 48.9 L124.7 49.8 L125.0 50.7 L125.0 50.7 L125.5 51.6 L126.3 52.5 L127.0 52.8 L127.1 52.8 L128.0 52.7 L129.1 52.6 L130.0 52.4 L130.1 52.4 L131.0 52.1 L132.0 51.7 L133.0 51.2 L133.8 50.6 L134.5 50.0 L134.6 49.9 L135.0 49.3 L135.4 48.5 L135.8 47.6 L136.1 46.6 L136.4 45.6 L136.7 44.6 L137.0 43.5 L137.2 43.0 L137.3 42.5 L137.7 41.3 L137.9 40.8 L137.9 40.8 L138.1 41.3 L138.2 42.4 L138.3 43.7 L138.3 44.9 L138.3 45.0 L138.3 45.9 L138.3 46.9 L138.3 47.9 L138.3 48.9 L138.3 49.9 L138.3 50.9 L138.3 51.9 L138.3 52.9 L138.3 53.9 L138.3 54.9 L138.3 55.9 L138.3 56.9 L138.3 57.9 L138.3 58.9 L138.3 59.9 L138.3 60.9 L138.3 61.9 L138.3 62.9 L138.3 63.9 L138.3 64.9 L138.3 65.9 L138.3 66.9 L138.3 67.9 L138.3 68.9 L138.3 69.9 L138.3 70.9 L138.3 71.9 L138.3 72.9 L138.3 73.9 L138.3 74.9 L138.3 75.9 L138.3 76.0 L138.3 76.9 L138.3 77.9 L138.3 78.9 L138.3 79.9 L138.3 80.9 L138.3 81.9 L138.3 82.9 L138.3 83.9 L138.3 84.9 L138.3 85.9 L138.3 86.9 L138.3 87.9 L138.3 88.9 L138.3 89.9 L138.3 90.9 L138.3 91.9 L138.3 92.9 L138.3 93.9 L138.3 94.9 L138.3 95.9 L138.3 96.9 L138.3 97.9 L138.3 98.9 L138.3 99.9 L138.3 100.9 L138.3 101.9 L138.3 102.9 L138.3 103.9 L138.3 104.9 L138.3 105.9 L138.3 106.9 L138.3 107.9 L138.3 108.9 L138.3 109.9 L138.3 110.9 L138.3 111.9 L138.3 112.9 L138.3 113.9 L138.3 114.9 L138.3 115.9 L138.2 116.9 L138.2 117.9 L138.2 118.9 L138.2 119.9 L138.2 120.9 L138.2 121.9 L138.2 122.9 L138.2 123.9 L138.2 124.9 L138.2 125.9 L138.2 126.9 L138.2 127.9 L138.2 128.9 L138.2 129.9 L138.2 130.9 L138.2 131.9 L138.2 132.9 L138.2 133.9 L138.2 134.9 L138.2 135.9 L138.2 136.9 L138.2 137.9 L138.2 138.9 L138.2 139.9 L138.2 140.9 L138.2 141.9 L138.2 142.9 L138.2 143.9 L138.2 144.9 L138.2 145.9 L138.2 146.9 L138.2 147.9 L138.2 148.9 L138.2 149.9 L138.2 150.9 L138.2 151.9 L138.2 152.9 L138.2 153.9 L138.2 154.9 L138.2 155.9 L138.2 156.9 L138.2 157.0 L138.2 157.9 L138.2 158.9 L138.2 159.9 L138.2 160.9 L138.2 161.9 L138.2 162.9 L138.2 163.9 L138.2 164.9 L138.2 165.9 L138.2 166.9 L138.2 167.9 L138.2 168.9 L138.2 169.9 L138.3 170.9 L138.3 171.9 L138.3 172.9 L138.3 173.9 L138.3 174.9 L138.3 175.9 L138.3 176.9 L138.3 177.9 L138.3 178.9 L138.3 179.9 L138.4 180.9 L138.4 181.9 L138.4 182.9 L138.4 183.9 L138.4 184.9 L138.4 185.8 L138.4 186.8 L138.5 187.8 L138.5 188.8 L138.5 189.8 L138.5 190.0 L138.5 190.8 L138.6 191.8 L138.6 192.8 L138.7 193.8 L138.8 194.8 L138.8 195.8 L138.9 196.8 L139.0 197.8 L139.1 198.8 L139.2 199.8 L139.3 200.8 L139.4 201.8 L139.5 202.8 L139.5 203.8 L139.6 204.8 L139.6 205.0 L139.6 205.8 L139.7 206.8 L139.7 207.8 L139.7 208.9 L139.8 209.9 L139.8 210.9 L139.8 211.9 L139.8 213.0 L139.8 214.0 L139.9 215.0 L139.9 216.1 L139.9 217.1 L140.0 218.2 L140.0 219.2 L140.1 220.2 L140.2 221.2 L140.2 221.4 L140.5 222.3 L141.1 223.2 L141.2 223.2 L141.7 223.2 L142.5 223.3 L143.4 223.3 L144.4 223.3 L145.5 223.3 L146.7 223.3 L148.0 223.3" fill="none" stroke="#ff00ff" stroke-width="1.65" stroke-linejoin="round" stroke-linecap="butt" stroke-dasharray="1.37 2.27" stroke-dashoffset="2.91"/>
<path d="M148.0 223.3 L149.0 223.3 L150.0 223.3 L151.0 223.3 L152.0 223.3 L153.0 223.3 L154.0 223.3 L155.0 223.3 L155.6 223.3" fill="none" stroke="#ff00ff" stroke-width="1.65" stroke-linejoin="round" stroke-linecap="butt" stroke-dasharray="1.37 2.27" stroke-dashoffset="0.00"/>
<path d="M155.6 223.3 L156.0 223.3 L156.4 223.1 L156.7 222.7 L157.0 221.9 L157.0 221.6 L157.2 220.6 L157.3 219.6 L157.4 218.6 L157.4 217.6 L157.5 216.5 L157.6 215.4 L157.6 214.4 L157.7 213.4 L157.7 212.4 L157.7 211.3 L157.8 210.3 L157.8 209.3 L157.8 208.3 L157.9 207.3 L157.9 206.3 L158.0 205.3 L158.0 205.0 L158.0 204.3 L158.1 203.3 L158.2 202.3 L158.2 201.3 L158.3 200.3 L158.3 199.3 L158.4 198.3 L158.4 198.0 L158.4 197.3 L158.5 196.3 L158.5 195.3 L158.5 194.3 L158.5 193.3 L158.6 192.3 L158.6 191.3 L158.6 190.3 L158.6 189.3 L158.7 188.3 L158.7 187.3 L158.7 186.3 L158.7 185.3 L158.7 184.3 L158.8 183.3 L158.8 182.3 L158.8 181.3 L158.8 180.3 L158.8 179.3 L158.8 178.3 L158.9 177.3 L158.9 176.3 L158.9 175.3 L158.9 174.3 L158.9 173.3 L158.9 172.3 L158.9 171.3 L159.0 170.3 L159.0 169.3 L159.0 168.3 L159.0 167.3 L159.0 166.3 L159.0 165.3 L159.1 164.3 L159.1 163.3 L159.1 162.3 L159.1 161.3 L159.1 160.3 L159.2 159.3 L159.2 158.3 L159.2 157.4 L159.2 157.0 L159.2 156.4 L159.2 155.4 L159.3 154.4 L159.3 153.4 L159.3 152.4 L159.3 151.4 L159.4 150.4 L159.4 149.4 L159.4 148.4 L159.5 147.4 L159.5 146.4 L159.5 145.4 L159.6 144.4 L159.6 143.4 L159.6 142.4 L159.7 141.4 L159.7 140.4 L159.7 139.4 L159.8 138.4 L159.8 137.4 L159.8 136.4 L159.9 135.4 L159.9 134.4 L159.9 133.4 L159.9 132.4 L160.0 131.4 L160.0 130.4 L160.0 129.4 L160.1 128.4 L160.1 127.4 L160.1 126.4 L160.1 125.4 L160.1 124.4 L160.1 123.4 L160.2 122.4 L160.2 121.4 L160.2 120.4 L160.2 119.4 L160.2 118.4 L160.2 117.4 L160.2 117.0 L160.2 116.4 L160.2 115.4 L160.2 114.4 L160.2 113.4 L160.2 112.4 L160.2 111.4 L160.2 110.4 L160.2 109.4 L160.2 108.4 L160.2 107.4 L160.2 106.5 L160.2 105.5 L160.2 104.5 L160.2 103.5 L160.2 102.5 L160.2 101.5 L160.2 100.5 L160.2 99.5 L160.2 98.5 L160.2 97.5 L160.2 96.5 L160.2 95.5 L160.2 94.5 L160.2 93.5 L160.2 92.5 L160.2 91.5 L160.2 90.5 L160.2 89.5 L160.2 88.5 L160.2 87.5 L160.2 86.5 L160.2 85.5 L160.2 84.5 L160.2 83.5 L160.2 82.5 L160.2 81.5 L160.2 80.5 L160.2 79.5 L160.2 78.5 L160.2 77.5 L160.2 76.5 L160.2 76.0 L160.2 75.5 L160.2 74.5 L160.2 73.5 L160.2 72.5 L160.2 71.5 L160.2 70.5 L160.2 69.5 L160.2 68.5 L160.3 67.5 L160.3 66.5 L160.3 65.5 L160.3 64.5 L160.3 63.5 L160.3 62.5 L160.4 61.5 L160.4 60.5 L160.4 59.5 L160.4 58.5 L160.5 57.5 L160.5 56.5 L160.5 55.5 L160.5 54.5 L160.6 53.5 L160.6 52.5 L160.6 51.5 L160.7 50.5 L160.7 50.0 L160.7 49.5 L160.8 48.4 L160.9 47.1 L160.9 45.8 L161.1 44.5 L161.2 43.3 L161.3 42.2 L161.5 41.3 L161.7 40.8 L161.9 40.5 L161.9 40.5" fill="none" stroke="#ff00ff" stroke-width="1.65" stroke-linejoin="round" stroke-linecap="butt" stroke-dasharray="1.37 2.27" stroke-dashoffset="0.02"/>
<path d="M161.9 40.5 L162.1 40.7 L162.5 41.2 L162.9 42.0 L163.4 43.0 L163.9 44.2 L164.5 45.4 L165.0 46.5 L165.5 47.5 L165.5 47.5 L165.9 48.4 L166.4 49.3 L166.8 50.2 L167.3 51.1 L167.7 51.9 L168.2 52.8 L168.6 53.7 L169.0 54.6 L169.5 55.5 L169.9 56.4 L170.4 57.3 L170.4 57.3 L170.9 58.2 L171.3 59.1 L171.8 59.9 L172.3 60.8 L172.8 61.7 L173.3 62.5 L173.8 63.4 L174.3 64.3 L174.7 65.2 L175.2 66.1 L175.3 66.3 L175.6 67.0 L176.1 67.8 L176.5 68.7 L177.0 69.6 L177.4 70.6 L177.8 71.5 L178.2 72.4 L178.6 73.3 L179.0 74.2 L179.3 75.1 L179.4 75.3 L179.7 76.1 L180.0 77.0 L180.3 78.0 L180.5 78.9 L180.8 79.9 L181.1 80.8 L181.3 81.8 L181.6 82.8 L181.8 83.8 L182.0 84.7 L182.3 85.7 L182.5 86.7 L182.7 87.7 L183.0 88.6 L183.2 89.6 L183.5 90.6 L183.5 90.7 L183.7 91.5 L183.9 92.5 L184.2 93.5 L184.4 94.4 L184.6 95.4 L184.9 96.4 L185.1 97.4 L185.3 98.3 L185.6 99.3 L185.8 100.3 L186.0 101.2 L186.3 102.2 L186.5 103.2 L186.7 103.8 L186.8 104.1 L187.1 105.1 L187.3 106.1 L187.6 107.0 L187.9 108.0 L188.1 109.0 L188.4 109.9 L188.8 110.9 L189.1 111.8 L189.2 112.0 L189.5 112.7 L190.0 113.6 L190.5 114.4 L191.0 115.3 L191.3 116.0 L191.4 116.2 L191.7 117.2 L192.0 118.1 L192.3 119.0 L192.5 120.0 L192.8 121.0 L193.0 121.9 L193.2 122.9 L193.5 123.9 L193.7 124.9 L193.9 125.9 L194.1 126.9 L194.3 127.8 L194.5 128.8 L194.7 129.8 L194.9 130.7 L194.9 130.8 L195.1 131.8 L195.4 132.7 L195.6 133.7 L195.9 134.7 L196.1 135.7 L196.3 136.6 L196.5 137.6 L196.7 138.6 L196.8 139.6 L196.9 140.5 L196.9 140.6 L197.0 141.6 L197.0 142.5 L197.1 143.5 L197.1 144.5 L197.2 145.5 L197.2 146.5 L197.2 147.5 L197.3 148.5 L197.3 149.5 L197.3 150.5 L197.3 151.5 L197.4 152.5 L197.4 153.5 L197.4 154.5 L197.4 155.5 L197.5 156.5 L197.5 157.5 L197.5 158.0 L197.5 158.5 L197.5 159.5 L197.6 160.5 L197.6 161.5 L197.6 162.5 L197.6 163.5 L197.6 164.5 L197.7 165.5 L197.7 166.5 L197.7 167.5 L197.7 168.5 L197.7 169.5 L197.7 170.5 L197.8 171.5 L197.8 172.5 L197.8 173.5 L197.8 174.5 L197.8 175.5 L197.8 176.5 L197.9 177.5 L197.9 178.5 L197.9 179.5 L197.9 180.5 L197.9 181.5 L198.0 182.5 L198.0 183.5 L198.0 184.5 L198.0 185.5 L198.1 186.5 L198.1 187.5 L198.1 188.5 L198.2 189.5 L198.2 190.0 L198.2 190.5 L198.3 191.5 L198.4 192.4 L198.5 193.4 L198.6 194.4 L198.8 195.4 L198.9 196.4 L199.0 197.4 L199.0 198.0 L199.0 198.4 L199.1 199.4 L199.1 200.4 L199.1 201.4 L199.2 202.4 L199.2 203.5 L199.2 204.5 L199.2 205.5 L199.3 206.5 L199.3 207.6 L199.3 208.6 L199.3 209.6 L199.3 210.6 L199.3 211.6 L199.4 212.6 L199.4 213.6 L199.4 214.6 L199.4 215.7 L199.5 216.7 L199.5 217.8 L199.6 218.8 L199.6 219.8 L199.7 220.8 L199.7 221.8 L199.8 222.5 L199.9 222.9 L200.3 224.1 L200.8 224.5 L200.9 224.5 L201.7 224.5 L202.8 224.5 L204.0 224.5" fill="none" stroke="#ff00ff" stroke-width="1.65" stroke-linejoin="round" stroke-linecap="butt" stroke-dasharray="1.37 2.27" stroke-dashoffset="3.57"/>
<path d="M326.3 224.5 L327.3 224.5 L328.3 224.5 L329.4 224.5 L330.4 224.5 L331.4 224.5 L332.4 224.5 L333.4 224.5 L334.4 224.5 L335.4 224.5 L336.4 224.5 L337.4 224.5 L338.4 224.5 L339.4 224.5 L340.4 224.5 L341.4 224.5 L342.4 224.4 L343.4 224.4 L344.4 224.4 L345.4 224.4 L346.4 224.4 L347.4 224.4 L348.4 224.4 L349.4 224.4 L350.4 224.4 L351.3 224.3 L352.3 224.3 L353.3 224.3 L354.3 224.3 L355.0 224.3 L355.3 224.3 L356.3 224.2 L357.4 224.0 L358.4 223.8 L359.4 223.6 L360.4 223.2 L361.3 222.9 L362.2 222.5 L362.4 222.4 L362.9 222.0 L363.6 221.3 L364.2 220.4 L364.8 219.3 L365.2 218.3 L365.3 218.0 L365.5 217.4 L365.7 216.4 L365.9 215.4 L366.0 214.4 L366.2 213.4 L366.3 212.4 L366.4 211.4 L366.5 210.3 L366.6 209.3 L366.7 208.3 L366.9 207.3 L367.0 206.4 L367.0 206.3 L367.2 205.3 L367.4 204.3 L367.5 203.3 L367.7 202.3 L367.9 201.4 L368.0 200.4 L368.2 199.4 L368.3 198.4 L368.3 198.0 L368.3 197.4 L368.4 196.4 L368.4 195.4 L368.5 194.4 L368.5 193.4 L368.5 192.4 L368.5 191.4 L368.6 190.4 L368.6 190.0 L368.6 189.4 L368.7 188.4 L368.7 187.4 L368.8 186.4 L368.8 185.4 L368.9 184.4 L368.9 183.4 L369.0 182.4 L369.0 181.4 L369.1 180.4 L369.2 179.4 L369.2 178.4 L369.3 177.4 L369.3 176.4 L369.4 175.4 L369.5 174.4 L369.5 173.4 L369.6 172.4 L369.6 171.4 L369.7 170.4 L369.8 169.4 L369.8 168.4 L369.9 167.5 L369.9 166.5 L370.0 165.5 L370.0 164.5 L370.1 163.5 L370.1 162.5 L370.2 161.5 L370.2 160.5 L370.3 159.5 L370.3 158.5 L370.4 157.5 L370.4 157.0 L370.4 156.5 L370.5 155.5 L370.5 154.5 L370.5 153.5 L370.6 152.5 L370.6 151.5 L370.7 150.5 L370.7 149.5 L370.7 148.5 L370.8 147.5 L370.8 146.5 L370.8 145.5 L370.9 144.5 L370.9 143.5 L370.9 142.5 L371.0 141.5 L371.0 140.5 L371.0 139.5 L371.0 138.5 L371.1 137.5 L371.1 136.5 L371.1 135.5 L371.2 134.5 L371.2 133.5 L371.2 132.5 L371.3 131.5 L371.3 130.5 L371.3 129.5 L371.3 128.5 L371.4 127.5 L371.4 126.5 L371.4 125.5 L371.5 124.5 L371.5 123.5 L371.5 122.5 L371.6 121.5 L371.6 120.5 L371.6 119.5 L371.7 118.5 L371.7 117.5 L371.7 117.0 L371.7 116.5 L371.7 115.5 L371.8 114.5 L371.8 113.5 L371.8 112.5 L371.9 111.5 L371.9 110.5 L371.9 109.5 L372.0 108.5 L372.0 107.5 L372.0 106.5 L372.1 105.5 L372.1 104.5 L372.1 103.5 L372.2 102.5 L372.2 101.5 L372.2 100.5 L372.3 99.5 L372.3 98.5 L372.3 97.5 L372.4 96.5 L372.4 95.5 L372.4 94.5 L372.5 93.5 L372.5 92.5 L372.5 91.5 L372.6 90.5 L372.6 89.5 L372.6 88.5 L372.7 87.5 L372.7 86.5 L372.7 85.5 L372.8 84.5 L372.8 83.5 L372.8 82.5 L372.9 81.5 L372.9 80.5 L372.9 79.5 L372.9 78.6 L373.0 77.6 L373.0 77.0 L373.0 76.6 L373.0 75.6 L373.1 74.6 L373.1 73.6 L373.1 72.6 L373.2 71.6 L373.2 70.6 L373.2 69.6 L373.2 68.5 L373.2 67.5 L373.3 66.5 L373.3 65.5 L373.3 64.5 L373.3 63.5 L373.4 62.5 L373.4 61.5 L373.4 60.5 L373.5 59.5 L373.5 58.6 L373.5 57.6 L373.6 56.6 L373.6 55.6 L373.7 54.6 L373.7 53.6 L373.8 52.6 L373.8 52.4 L373.9 51.6 L373.9 50.6 L374.0 49.6 L374.1 48.5 L374.3 47.5 L374.4 46.5 L374.6 45.5 L374.8 44.6 L375.0 43.7 L375.1 43.4 L375.3 42.7 L375.8 41.5 L376.4 40.6 L377.0 40.0 L377.2 40.0 L377.6 40.2 L378.2 41.0 L378.7 42.1 L379.3 43.1 L379.3 43.2 L379.7 44.1 L380.1 45.3 L380.5 46.5 L380.9 47.5 L381.3 48.3 L381.7 48.6 L381.7 48.6 L382.2 48.3 L382.6 47.4 L383.1 46.3 L383.6 45.2 L384.0 44.5 L384.2 44.2 L384.8 43.1 L385.3 42.2 L385.6 41.9" fill="none" stroke="#ff00ff" stroke-width="1.65" stroke-linejoin="round" stroke-linecap="butt" stroke-dasharray="1.37 2.27" stroke-dashoffset="0.55"/>
<path d="M385.6 41.9 L385.6 41.9 L385.8 42.2 L386.0 42.7 L386.1 43.6 L386.3 44.6 L386.4 45.8 L386.5 47.0 L386.6 48.4 L386.6 49.7 L386.7 50.9 L386.8 52.0 L386.8 52.4 L386.8 53.1 L386.9 54.0 L387.0 55.0 L387.0 56.0 L387.1 57.0 L387.1 58.0 L387.2 59.0 L387.2 60.0 L387.3 61.0 L387.3 62.0 L387.4 63.0 L387.4 63.8 L387.4 64.0 L387.4 65.0 L387.5 66.0 L387.5 67.0 L387.5 68.0 L387.6 69.0 L387.6 70.0 L387.6 71.0 L387.7 72.0 L387.7 73.0 L387.7 74.0 L387.7 75.0 L387.8 76.0 L387.8 77.0 L387.8 77.0 L387.8 78.0 L387.9 79.0 L387.9 80.0 L387.9 81.0 L387.9 82.0 L388.0 83.0 L388.0 84.0 L388.0 85.0 L388.1 86.0 L388.1 87.0 L388.1 88.0 L388.1 89.0 L388.2 90.0 L388.2 91.0 L388.2 92.0 L388.3 93.0 L388.3 94.0 L388.3 95.0 L388.3 96.0 L388.4 97.0 L388.4 98.0 L388.4 99.0 L388.4 100.0 L388.5 101.0 L388.5 102.0 L388.5 103.0 L388.6 104.0 L388.6 105.0 L388.6 106.0 L388.6 107.0 L388.7 108.0 L388.7 109.0 L388.7 110.0 L388.7 111.0 L388.8 112.0 L388.8 113.0 L388.8 114.0 L388.8 115.0 L388.9 116.0 L388.9 117.0 L388.9 117.0 L388.9 118.0 L389.0 119.0 L389.0 120.0 L389.0 121.0 L389.0 122.0 L389.0 123.0 L389.1 124.0 L389.1 125.0 L389.1 126.0 L389.1 127.0 L389.2 128.0 L389.2 129.0 L389.2 130.0 L389.2 131.0 L389.3 132.0 L389.3 133.0 L389.3 134.0 L389.3 135.0 L389.3 136.0 L389.4 137.0 L389.4 138.0 L389.4 139.0 L389.4 140.0 L389.5 141.0 L389.5 142.0 L389.5 143.0 L389.5 144.0 L389.6 145.0 L389.6 146.0 L389.6 147.0 L389.6 148.0 L389.7 149.0 L389.7 150.0 L389.7 151.0 L389.7 152.0 L389.8 153.0 L389.8 154.0 L389.8 155.0 L389.9 156.0 L389.9 157.0 L389.9 157.0 L389.9 158.0 L390.0 159.0 L390.0 159.9 L390.0 160.9 L390.1 161.9 L390.1 162.9 L390.1 163.9 L390.2 164.9 L390.2 165.9 L390.2 166.9 L390.3 167.9 L390.3 168.9 L390.4 169.9 L390.4 170.9 L390.4 171.9 L390.5 172.9 L390.5 173.9 L390.6 174.9 L390.6 175.9 L390.6 176.9 L390.7 177.9 L390.7 178.9 L390.8 179.9 L390.8 180.9 L390.9 181.9 L390.9 182.9 L391.0 183.9 L391.0 184.9 L391.1 185.9 L391.1 186.9 L391.2 187.9 L391.2 188.9 L391.3 189.9 L391.3 190.0 L391.4 190.9 L391.4 191.9 L391.5 192.9 L391.5 193.9 L391.6 194.9 L391.7 195.9 L391.7 196.9 L391.8 197.9 L391.9 198.9 L392.0 199.9 L392.1 200.9 L392.1 201.9 L392.2 202.9 L392.3 203.9 L392.4 204.9 L392.5 205.9 L392.6 206.4 L392.7 206.8 L392.8 207.8 L392.9 208.8 L393.0 209.8 L393.2 210.8 L393.4 211.8 L393.5 212.8 L393.7 213.8 L394.0 214.8 L394.2 215.8 L394.3 216.3 L394.4 216.8 L394.7 217.9 L395.0 219.0 L395.4 220.1 L395.8 221.1 L396.3 221.9 L396.7 222.4 L396.9 222.5 L397.7 223.1 L398.7 223.6 L399.7 223.8 L400.0 223.9 L400.7 223.9 L401.6 223.9 L402.6 224.0 L403.5 224.0 L404.5 224.1 L405.5 224.1 L406.4 224.1 L407.4 224.2 L408.4 224.2 L409.3 224.2 L410.3 224.3 L411.3 224.3 L412.3 224.3 L413.2 224.3 L414.2 224.4 L415.2 224.4 L416.2 224.4 L417.2 224.4 L418.2 224.4 L419.2 224.4 L420.2 224.4 L421.2 224.5 L422.3 224.5 L423.3 224.5 L424.3 224.5 L425.3 224.5 L426.4 224.5 L427.4 224.5 L428.5 224.5 L429.5 224.5 L430.6 224.5 L431.6 224.5 L432.7 224.5" fill="none" stroke="#ff00ff" stroke-width="1.65" stroke-linejoin="round" stroke-linecap="butt" stroke-dasharray="1.37 2.27" stroke-dashoffset="0.75"/>
</g>
<g stroke="#000" stroke-width="1.05"><line x1="60.41" y1="224.50" x2="60.41" y2="227.70"/><line x1="113.57" y1="224.50" x2="113.57" y2="227.70"/><line x1="166.73" y1="224.50" x2="166.73" y2="227.70"/><line x1="219.90" y1="224.50" x2="219.90" y2="227.70"/><line x1="273.06" y1="224.50" x2="273.06" y2="227.70"/><line x1="326.22" y1="224.50" x2="326.22" y2="227.70"/><line x1="379.38" y1="224.50" x2="379.38" y2="227.70"/><line x1="432.54" y1="224.50" x2="432.54" y2="227.70"/><line x1="38.60" y1="224.50" x2="41.80" y2="224.50"/><line x1="38.60" y1="187.59" x2="41.80" y2="187.59"/><line x1="38.60" y1="150.68" x2="41.80" y2="150.68"/><line x1="38.60" y1="113.77" x2="41.80" y2="113.77"/><line x1="38.60" y1="76.86" x2="41.80" y2="76.86"/><line x1="38.60" y1="39.95" x2="41.80" y2="39.95"/></g>
<rect x="41.80" y="21.50" width="409.35" height="203.00" fill="none" stroke="#000" stroke-width="1.05"/>
<g font-family="'DejaVu Sans', 'Liberation Sans', sans-serif" stroke="#000" stroke-width="0.32" font-size="9.1" fill="#000"><text x="60.41" y="238.10" text-anchor="middle">400</text><text x="113.57" y="238.10" text-anchor="middle">600</text><text x="166.73" y="238.10" text-anchor="middle">800</text><text x="219.90" y="238.10" text-anchor="middle">1000</text><text x="273.06" y="238.10" text-anchor="middle">1200</text><text x="326.22" y="238.10" text-anchor="middle">1400</text><text x="379.38" y="238.10" text-anchor="middle">1600</text><text x="432.54" y="238.10" text-anchor="middle">1800</text><text x="35.50" y="228.10" text-anchor="end">0.0</text><text x="35.50" y="191.19" text-anchor="end">0.2</text><text x="35.50" y="154.28" text-anchor="end">0.4</text><text x="35.50" y="117.37" text-anchor="end">0.6</text><text x="35.50" y="80.46" text-anchor="end">0.8</text><text x="35.50" y="43.55" text-anchor="end">1.0</text></g>
<text x="246.8" y="15.3" text-anchor="middle" font-family="'DejaVu Sans', 'Liberation Sans', sans-serif" stroke="#000" stroke-width="0.26" font-size="14.75" fill="#000">Sensor Spectral Response Function</text>
<text x="246.6" y="252.6" text-anchor="middle" font-family="'DejaVu Sans', 'Liberation Sans', sans-serif" stroke="#000" stroke-width="0.26" font-size="12.88" fill="#000">Wavelength [nm]</text>
<text transform="translate(14.25 123) rotate(-90)" text-anchor="middle" font-family="'DejaVu Sans', 'Liberation Sans', sans-serif" stroke="#000" stroke-width="0.26" font-size="12.8" fill="#000">SRF</text>
<rect x="455.5" y="25.6" width="90.3" height="43.2" rx="1.9" ry="1.9" fill="#fff" fill-opacity="0.8" stroke="#cccccc" stroke-opacity="0.9" stroke-width="1.1"/>
<path d="M459.2 33.55 H478.1" stroke="#0000ff" stroke-width="1.65" stroke-dasharray="5.08 2.20" fill="none"/>
<path d="M458.5 46.75 H478.4" stroke="#ffa500" stroke-width="1.55" fill="none"/>
<path d="M459.2 59.95 H478.0" stroke="#ff00ff" stroke-width="1.65" stroke-dasharray="1.37 2.27" fill="none"/>
<g font-family="'DejaVu Sans', 'Liberation Sans', sans-serif" stroke="#000" stroke-width="0.3" font-size="9.13" fill="#000"><text x="485.1" y="36.35">SPOT4-VGT1</text><text x="485.1" y="49.55">SPOT5-VGT2</text><text x="485.1" y="62.75">PROBA-V</text></g>
</svg>
</body></html>
